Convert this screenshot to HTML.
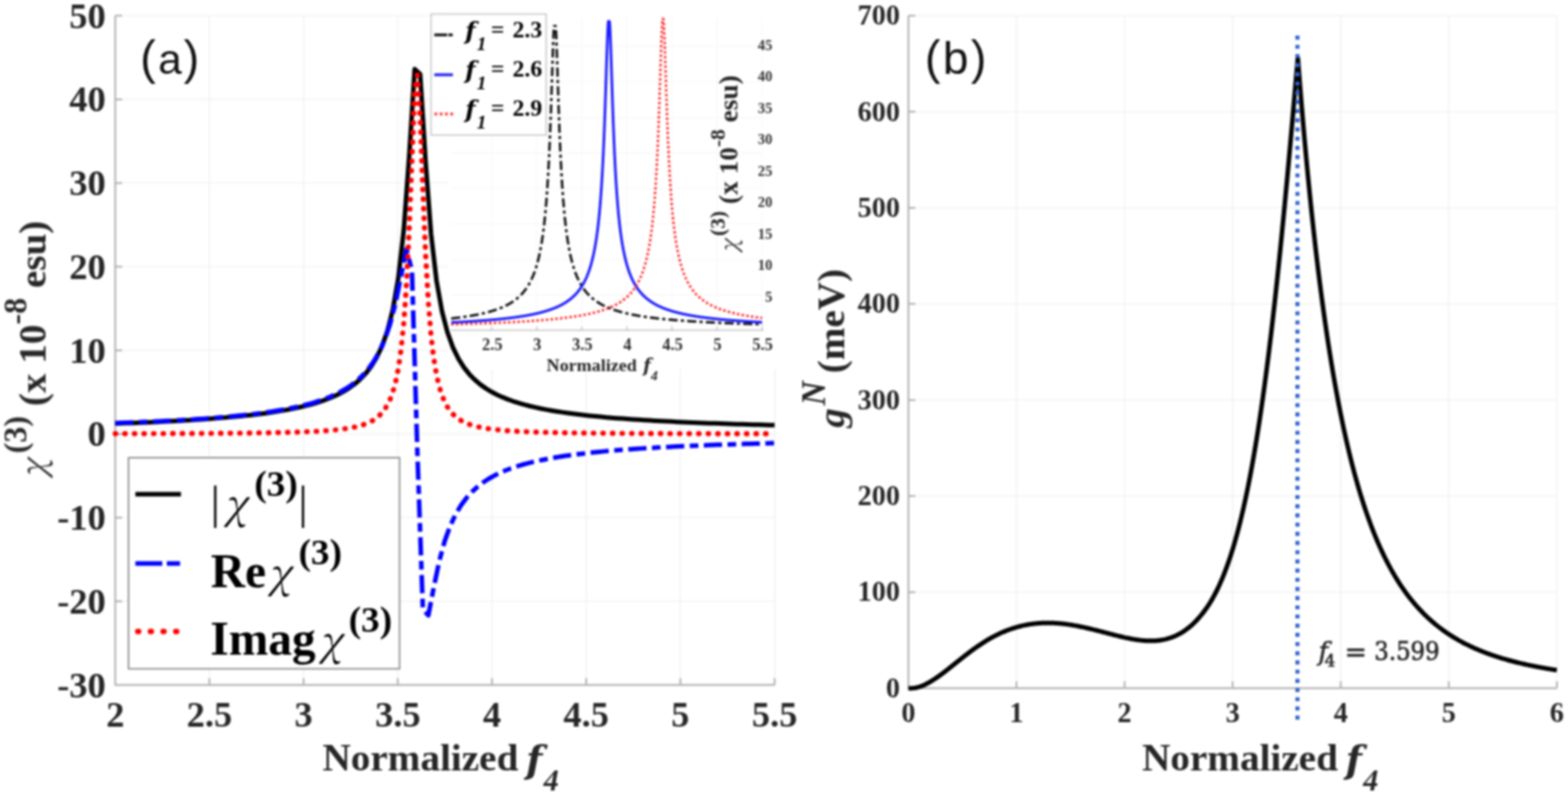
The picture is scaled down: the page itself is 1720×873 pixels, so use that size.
<!DOCTYPE html>
<html lang="en">
<head>
<meta charset="utf-8">
<title>Figure: third-order susceptibility and normalized gain</title>
<style>
html,body{margin:0;padding:0;background:#fff;}
body{width:1720px;height:873px;overflow:hidden;}
svg{display:block;}
text{font-family:"Liberation Serif","DejaVu Serif",serif;font-weight:bold;fill:#262626;}
.tk{font-size:40px;}
.btk{font-size:31px;}
.lab{font-size:43px;}
.bi{font-style:italic;font-weight:bold;}
.fi{font-family:"DejaVu Serif","Liberation Serif",serif;font-style:italic;font-weight:bold;}
.chi{font-family:"Noto Serif CJK SC","Liberation Serif",serif;font-weight:400;font-style:italic;}
.sup{font-size:35px;}
.pl{font-family:"Liberation Sans","DejaVu Sans",sans-serif;font-weight:normal;font-size:51.3px;fill:#111;}
.leg{font-size:52px;fill:#000;}
.bar{font-weight:normal;font-size:51px;}
.lsup{font-size:41px;}
.itk{font-size:18px;fill:#2c2c2c;}
.iytk{font-size:16px;fill:#333;}
.ilab{font-size:19.8px;}
.iylab{font-size:30px;}
.isup{font-size:23.5px;}
.ileg{font-size:26px;fill:#000;}
.ann{font-family:"DejaVu Serif","Liberation Serif",serif;font-weight:normal;font-size:25px;fill:#2a2a2a;stroke:#2a2a2a;stroke-width:0.7px;}
.annd{font-family:"DejaVu Serif Condensed","DejaVu Serif","Liberation Serif",serif;font-stretch:condensed;font-size:27.8px;}
</style>
</head>
<body>
<svg width="1720" height="873" viewBox="0 0 1720 873">
<defs><filter id="soft" x="0" y="0" width="1720" height="873" filterUnits="userSpaceOnUse" color-interpolation-filters="sRGB"><feGaussianBlur stdDeviation="0.85"/></filter></defs>
<rect x="0" y="0" width="1720" height="873" fill="#ffffff"/>
<g filter="url(#soft)">
<g id="plot-a">
<path d="M126.40,17.20 V751.20 M229.73,17.20 V751.20 M333.06,17.20 V751.20 M436.39,17.20 V751.20 M539.71,17.20 V751.20 M643.04,17.20 V751.20 M746.37,17.20 V751.20 M849.70,17.20 V751.20 M126.40,751.20 H849.70 M126.40,659.45 H849.70 M126.40,567.70 H849.70 M126.40,475.95 H849.70 M126.40,384.20 H849.70 M126.40,292.45 H849.70 M126.40,200.70 H849.70 M126.40,108.95 H849.70 M126.40,17.20 H849.70" fill="none" stroke="#f1f1f1" stroke-width="1.3"/>
<rect x="492" y="13" width="359" height="392" fill="#fff"/>
<path d="M126.40,17.20 V751.20 H849.70 M126.40,751.20 v-7.5 M229.73,751.20 v-7.5 M333.06,751.20 v-7.5 M436.39,751.20 v-7.5 M539.71,751.20 v-7.5 M643.04,751.20 v-7.5 M746.37,751.20 v-7.5 M849.70,751.20 v-7.5 M126.40,751.20 h7.5 M126.40,659.45 h7.5 M126.40,567.70 h7.5 M126.40,475.95 h7.5 M126.40,384.20 h7.5 M126.40,292.45 h7.5 M126.40,200.70 h7.5 M126.40,108.95 h7.5 M126.40,17.20 h7.5" fill="none" stroke="#b2b2b2" stroke-width="2"/>
<path d="M126.40,464.51 L131.28,464.34 L137.27,464.12 L143.26,463.89 L149.26,463.66 L155.25,463.42 L161.24,463.16 L167.24,462.90 L173.23,462.63 L179.22,462.34 L185.21,462.04 L191.21,461.73 L197.20,461.40 L203.19,461.06 L209.19,460.70 L215.18,460.32 L221.17,459.93 L227.17,459.51 L233.16,459.07 L239.15,458.61 L245.15,458.12 L251.14,457.61 L257.13,457.06 L263.12,456.48 L269.12,455.86 L275.11,455.21 L281.10,454.50 L287.10,453.75 L293.09,452.95 L299.08,452.08 L305.08,451.15 L311.07,450.14 L317.06,449.04 L323.05,447.85 L329.05,446.55 L335.04,445.12 L341.03,443.55 L347.03,441.80 L353.02,439.86 L359.01,437.69 L365.01,435.24 L371.00,432.46 L376.99,429.27 L382.99,425.57 L388.98,421.25 L394.97,416.11 L400.96,409.89 L406.96,402.23 L412.95,392.54 L418.94,379.96 L424.94,363.06 L430.93,339.48 L436.92,305.01 L442.92,252.15 L448.91,170.45 L454.90,75.86 L460.90,81.35 L466.89,177.75 L472.88,257.05 L478.87,308.15 L484.87,341.58 L490.86,364.54 L496.85,381.04 L502.85,393.36 L508.84,402.87 L514.83,410.41 L520.83,416.53 L526.82,421.60 L532.81,425.88 L538.80,429.53 L544.80,432.68 L550.79,435.44 L556.78,437.86 L562.78,440.02 L568.77,441.94 L574.76,443.67 L580.76,445.23 L586.75,446.65 L592.74,447.94 L598.74,449.13 L604.73,450.22 L610.72,451.22 L616.71,452.15 L622.71,453.01 L628.70,453.81 L634.69,454.56 L640.69,455.26 L646.68,455.91 L652.67,456.53 L658.67,457.10 L664.66,457.65 L670.65,458.16 L676.65,458.65 L682.64,459.11 L688.63,459.54 L694.62,459.96 L700.62,460.35 L706.61,460.73 L712.60,461.09 L718.60,461.43 L724.59,461.75 L730.58,462.06 L736.58,462.36 L742.57,462.65 L748.56,462.92 L754.56,463.18 L760.55,463.44 L766.54,463.68 L772.53,463.91 L778.53,464.14 L784.52,464.35 L790.51,464.56 L796.51,464.76 L802.50,464.96 L808.49,465.14 L814.49,465.33 L820.48,465.50 L826.47,465.67 L832.46,465.84 L838.46,465.99 L844.45,466.15 L849.70,466.28" fill="none" stroke="#000" stroke-width="5" stroke-linejoin="round"/>
<path d="M126.40,464.10 L128.26,464.03 L134.25,463.81 L140.25,463.59 L146.24,463.35 L152.23,463.10 L158.23,462.84 L164.22,462.58 L170.21,462.30 L176.20,462.01 L182.20,461.70 L188.19,461.39 L194.18,461.06 L200.18,460.71 L206.17,460.35 L212.16,459.97 L218.16,459.57 L224.15,459.15 L230.14,458.71 L236.13,458.24 L242.13,457.75 L248.12,457.23 L254.11,456.68 L260.11,456.10 L266.10,455.48 L272.09,454.82 L278.09,454.12 L284.08,453.37 L290.07,452.57 L296.07,451.70 L302.06,450.78 L308.05,449.77 L314.04,448.69 L320.04,447.51 L326.03,446.22 L332.02,444.82 L338.02,443.28 L344.01,441.57 L350.00,439.68 L356.00,437.58 L361.99,435.21 L367.98,432.54 L373.98,429.50 L379.97,426.00 L385.96,421.95 L391.95,417.20 L397.95,411.56 L403.94,404.76 L409.93,396.42 L415.93,386.00 L421.92,372.69 L427.91,355.32 L433.91,332.32 L439.90,302.68 L445.89,273.17 L451.89,297.03 L457.88,497.43 L463.87,668.20 L469.86,674.96 L475.86,643.92 L481.85,615.32 L487.84,593.36 L493.84,576.76 L499.83,564.00 L505.82,553.97 L511.82,545.92 L517.81,539.33 L523.80,533.86 L529.79,529.23 L535.79,525.28 L541.78,521.87 L547.77,518.90 L553.77,516.28 L559.76,513.96 L565.75,511.89 L571.75,510.03 L577.74,508.36 L583.73,506.84 L589.73,505.45 L595.72,504.19 L601.71,503.03 L607.70,501.96 L613.70,500.97 L619.69,500.05 L625.68,499.20 L631.68,498.40 L637.67,497.66 L643.66,496.96 L649.66,496.31 L655.65,495.70 L661.64,495.12 L667.64,494.58 L673.63,494.07 L679.62,493.58 L685.61,493.12 L691.61,492.68 L697.60,492.26 L703.59,491.87 L709.59,491.49 L715.58,491.13 L721.57,490.79 L727.57,490.46 L733.56,490.14 L739.55,489.84 L745.54,489.56 L751.54,489.28 L757.53,489.01 L763.52,488.76 L769.52,488.51 L775.51,488.28 L781.50,488.05 L787.50,487.83 L793.49,487.62 L799.48,487.41 L805.48,487.22 L811.47,487.03 L817.46,486.84 L823.45,486.66 L829.45,486.49 L835.44,486.33 L841.43,486.16 L847.43,486.01 L849.70,485.95" fill="none" stroke="#0000ff" stroke-width="5" stroke-dasharray="20 6 9.5 6" stroke-linejoin="round"/>
<path d="M126.40,475.62 L128.28,475.62 L131.28,475.61 L134.27,475.60 L137.27,475.60 L140.27,475.59 L143.26,475.58 L146.26,475.58 L149.26,475.57 L152.25,475.56 L155.25,475.56 L158.25,475.55 L161.24,475.54 L164.24,475.53 L167.24,475.52 L170.23,475.51 L173.23,475.50 L176.23,475.49 L179.22,475.48 L182.22,475.47 L185.21,475.46 L188.21,475.45 L191.21,475.44 L194.20,475.43 L197.20,475.42 L200.20,475.41 L203.19,475.39 L206.19,475.38 L209.19,475.37 L212.18,475.35 L215.18,475.34 L218.18,475.32 L221.17,475.30 L224.17,475.29 L227.17,475.27 L230.16,475.25 L233.16,475.23 L236.16,475.21 L239.15,475.19 L242.15,475.17 L245.15,475.15 L248.14,475.13 L251.14,475.10 L254.13,475.08 L257.13,475.05 L260.13,475.02 L263.12,475.00 L266.12,474.97 L269.12,474.93 L272.11,474.90 L275.11,474.87 L278.11,474.83 L281.10,474.79 L284.10,474.75 L287.10,474.71 L290.09,474.66 L293.09,474.62 L296.09,474.57 L299.08,474.51 L302.08,474.46 L305.08,474.40 L308.07,474.34 L311.07,474.27 L314.07,474.20 L317.06,474.12 L320.06,474.04 L323.05,473.96 L326.05,473.87 L329.05,473.77 L332.04,473.66 L335.04,473.55 L338.04,473.43 L341.03,473.30 L344.03,473.16 L347.03,473.01 L350.02,472.84 L353.02,472.66 L356.02,472.46 L359.01,472.25 L362.01,472.02 L365.01,471.76 L368.00,471.48 L371.00,471.16 L374.00,470.82 L376.99,470.43 L379.99,470.00 L382.99,469.52 L385.98,468.98 L388.98,468.36 L391.98,467.67 L394.97,466.87 L397.97,465.95 L400.96,464.89 L403.96,463.65 L406.96,462.19 L409.95,460.47 L412.95,458.40 L415.95,455.89 L418.94,452.82 L421.94,449.00 L424.94,444.19 L427.93,438.02 L430.93,429.94 L433.93,419.16 L436.92,404.41 L439.92,383.75 L442.92,354.19 L445.91,311.41 L448.91,250.75 L451.91,173.06 L454.90,100.12 L457.90,82.34 L460.90,127.98 L463.89,207.68 L466.89,279.08 L469.88,331.64 L472.88,368.17 L475.88,393.47 L478.87,411.30 L481.87,424.17 L484.87,433.67 L487.86,440.85 L490.86,446.39 L493.86,450.74 L496.85,454.21 L499.85,457.02 L502.85,459.33 L505.84,461.24 L508.84,462.85 L511.84,464.20 L514.83,465.36 L517.83,466.36 L520.83,467.22 L523.82,467.98 L526.82,468.64 L529.82,469.22 L532.81,469.73 L535.81,470.19 L538.80,470.60 L541.80,470.97 L544.80,471.30 L547.79,471.60 L550.79,471.87 L553.79,472.12 L556.78,472.34 L559.78,472.55 L562.78,472.74 L565.77,472.91 L568.77,473.07 L571.77,473.22 L574.76,473.36 L577.76,473.48 L580.76,473.60 L583.75,473.71 L586.75,473.81 L589.75,473.91 L592.74,474.00 L595.74,474.08 L598.74,474.16 L601.73,474.23 L604.73,474.30 L607.73,474.36 L610.72,474.43 L613.72,474.48 L616.71,474.54 L619.71,474.59 L622.71,474.64 L625.70,474.68 L628.70,474.73 L631.70,474.77 L634.69,474.81 L637.69,474.85 L640.69,474.88 L643.68,474.92 L646.68,474.95 L649.68,474.98 L652.67,475.01 L655.67,475.04 L658.67,475.06 L661.66,475.09 L664.66,475.11 L667.66,475.14 L670.65,475.16 L673.65,475.18 L676.65,475.20 L679.64,475.22 L682.64,475.24 L685.63,475.26 L688.63,475.28 L691.63,475.29 L694.62,475.31 L697.62,475.33 L700.62,475.34 L703.61,475.36 L706.61,475.37 L709.61,475.38 L712.60,475.40 L715.60,475.41 L718.60,475.42 L721.59,475.43 L724.59,475.45 L727.59,475.46 L730.58,475.47 L733.58,475.48 L736.58,475.49 L739.57,475.50 L742.57,475.51 L745.57,475.52 L748.56,475.53 L751.56,475.53 L754.56,475.54 L757.55,475.55 L760.55,475.56 L763.54,475.57 L766.54,475.57 L769.54,475.58 L772.53,475.59 L775.53,475.59 L778.53,475.60 L781.52,475.61 L784.52,475.61 L787.52,475.62 L790.51,475.63 L793.51,475.63 L796.51,475.64 L799.50,475.64 L802.50,475.65 L805.50,475.65 L808.49,475.66 L811.49,475.66 L814.49,475.67 L817.48,475.67 L820.48,475.68 L823.48,475.68 L826.47,475.69 L829.47,475.69 L832.46,475.69 L835.46,475.70 L838.46,475.70 L841.45,475.71 L844.45,475.71 L847.45,475.71 L849.70,475.72" fill="none" stroke="#ff0000" stroke-width="5.7" stroke-dasharray="0.5 10" stroke-linecap="round" stroke-linejoin="round"/>
<text x="116" y="764.70" text-anchor="end" class="tk">-30</text>
<text x="116" y="672.95" text-anchor="end" class="tk">-20</text>
<text x="116" y="581.20" text-anchor="end" class="tk">-10</text>
<text x="116" y="489.45" text-anchor="end" class="tk">0</text>
<text x="116" y="397.70" text-anchor="end" class="tk">10</text>
<text x="116" y="305.95" text-anchor="end" class="tk">20</text>
<text x="116" y="214.20" text-anchor="end" class="tk">30</text>
<text x="116" y="122.45" text-anchor="end" class="tk">40</text>
<text x="116" y="30.70" text-anchor="end" class="tk">50</text>
<text x="126.40" y="797.4" text-anchor="middle" class="tk">2</text>
<text x="229.73" y="797.4" text-anchor="middle" class="tk">2.5</text>
<text x="333.06" y="797.4" text-anchor="middle" class="tk">3</text>
<text x="436.39" y="797.4" text-anchor="middle" class="tk">3.5</text>
<text x="539.71" y="797.4" text-anchor="middle" class="tk">4</text>
<text x="643.04" y="797.4" text-anchor="middle" class="tk">4.5</text>
<text x="746.37" y="797.4" text-anchor="middle" class="tk">5</text>
<text x="849.70" y="797.4" text-anchor="middle" class="tk">5.5</text>
<text x="353.7" y="845.3" class="lab">Normalized <tspan class="fi" font-size="41.5" x="577.0" y="847.4">f</tspan><tspan class="bi" font-size="33.5" x="596.2" y="867">4</tspan></text>
<text transform="translate(50,524.2) rotate(-90)" class="lab"><tspan class="chi" font-size="37.5" x="0" y="0">χ</tspan><tspan class="sup" x="27.1" y="-20.6">(3)</tspan><tspan y="0"> (x 10</tspan><tspan class="sup" y="-20.6">-8</tspan><tspan y="0"> esu)</tspan></text>
<text y="80.9" class="pl"><tspan x="153.8">(</tspan><tspan x="173.4" font-size="46.5">a</tspan><tspan x="201.6">)</tspan></text>
<rect x="141" y="502" width="297.3" height="231.5" fill="#fff" stroke="#8e8e8e" stroke-width="1.7"/>
<path d="M148.5,542 H198.5" stroke="#000" stroke-width="5" fill="none"/>
<path d="M148.5,618 H178 M183,618 H197.5" stroke="#0000ff" stroke-width="5" fill="none"/>
<path d="M151.2,692.5 H198" stroke="#ff0000" stroke-width="6.2" stroke-dasharray="0.8 13.1" stroke-linecap="round" fill="none"/>
<text class="leg"><tspan class="bar" x="230.9" y="568">|</tspan><tspan class="chi" font-size="45" x="245.7" y="568.8">χ</tspan><tspan class="lsup" x="278.9" y="543.6">(3)</tspan><tspan class="bar" x="327.2" y="568">|</tspan></text>
<text class="leg"><tspan x="231.3" y="644">Re</tspan><tspan class="chi" font-size="45" x="294" y="644.8">χ</tspan><tspan class="lsup" x="327.4" y="619.4">(3)</tspan></text>
<text class="leg"><tspan x="230.8" y="717.5">Imag</tspan><tspan class="chi" font-size="45" x="350" y="718.5">χ</tspan><tspan class="lsup" x="382.4" y="692.8">(3)</tspan></text>
</g>
<g id="inset">
<path d="M539.43,20.00 V362.30 M588.86,20.00 V362.30 M638.29,20.00 V362.30 M687.71,20.00 V362.30 M737.14,20.00 V362.30 M786.57,20.00 V362.30 M836.00,20.00 V362.30 M495.00,323.40 H836.00 M495.00,284.50 H836.00 M495.00,245.60 H836.00 M495.00,206.70 H836.00 M495.00,167.80 H836.00 M495.00,128.90 H836.00 M495.00,90.00 H836.00 M495.00,51.10 H836.00" fill="none" stroke="#f8f8f8" stroke-width="1.2"/>
<path d="M495,362.30 H837.50 M539.43,362.30 v-4 M588.86,362.30 v-4 M638.29,362.30 v-4 M687.71,362.30 v-4 M737.14,362.30 v-4 M786.57,362.30 v-4 M836.00,362.30 v-4" fill="none" stroke="#c8c8c8" stroke-width="1.6"/>
<path d="M494.94,349.31 L495.19,349.28 L495.43,349.26 L495.67,349.23 L495.92,349.20 L496.16,349.17 L496.41,349.15 L496.65,349.12 L496.89,349.09 L497.14,349.06 L497.38,349.03 L497.62,349.01 L497.87,348.98 L498.11,348.95 L498.36,348.92 L498.60,348.89 L498.84,348.86 L499.09,348.83 L499.33,348.80 L499.57,348.77 L499.82,348.74 L500.06,348.71 L500.31,348.68 L500.55,348.65 L500.79,348.62 L501.04,348.59 L501.28,348.56 L501.53,348.53 L501.77,348.50 L502.01,348.47 L502.26,348.44 L502.50,348.41 L502.74,348.38 L502.99,348.35 L503.23,348.32 L503.48,348.28 L503.72,348.25 L503.96,348.22 L504.21,348.19 L504.45,348.16 L504.69,348.12 L504.94,348.09 L505.18,348.06 L505.43,348.02 L505.67,347.99 L505.91,347.96 L506.16,347.93 L506.40,347.89 L506.64,347.86 L506.89,347.82 L507.13,347.79 L507.38,347.76 L507.62,347.72 L507.86,347.69 L508.11,347.65 L508.35,347.62 L508.59,347.58 L508.84,347.55 L509.08,347.51 L509.33,347.48 L509.57,347.44 L509.81,347.41 L510.06,347.37 L510.30,347.33 L510.55,347.30 L510.79,347.26 L511.03,347.22 L511.28,347.19 L511.52,347.15 L511.76,347.11 L512.01,347.07 L512.25,347.04 L512.50,347.00 L512.74,346.96 L512.98,346.92 L513.23,346.88 L513.47,346.85 L513.71,346.81 L513.96,346.77 L514.20,346.73 L514.45,346.69 L514.69,346.65 L514.93,346.61 L515.18,346.57 L515.42,346.53 L515.66,346.49 L515.91,346.45 L516.15,346.41 L516.40,346.37 L516.64,346.32 L516.88,346.28 L517.13,346.24 L517.37,346.20 L517.61,346.16 L517.86,346.11 L518.10,346.07 L518.35,346.03 L518.59,345.99 L518.83,345.94 L519.08,345.90 L519.32,345.85 L519.57,345.81 L519.81,345.77 L520.05,345.72 L520.30,345.68 L520.54,345.63 L520.78,345.59 L521.03,345.54 L521.27,345.50 L521.52,345.45 L521.76,345.40 L522.00,345.36 L522.25,345.31 L522.49,345.26 L522.73,345.21 L522.98,345.17 L523.22,345.12 L523.47,345.07 L523.71,345.02 L523.95,344.97 L524.20,344.92 L524.44,344.88 L524.68,344.83 L524.93,344.78 L525.17,344.73 L525.42,344.68 L525.66,344.62 L525.90,344.57 L526.15,344.52 L526.39,344.47 L526.64,344.42 L526.88,344.37 L527.12,344.31 L527.37,344.26 L527.61,344.21 L527.85,344.15 L528.10,344.10 L528.34,344.05 L528.59,343.99 L528.83,343.94 L529.07,343.88 L529.32,343.83 L529.56,343.77 L529.80,343.71 L530.05,343.66 L530.29,343.60 L530.54,343.54 L530.78,343.49 L531.02,343.43 L531.27,343.37 L531.51,343.31 L531.75,343.25 L532.00,343.19 L532.24,343.13 L532.49,343.07 L532.73,343.01 L532.97,342.95 L533.22,342.89 L533.46,342.83 L533.70,342.76 L533.95,342.70 L534.19,342.64 L534.44,342.58 L534.68,342.51 L534.92,342.45 L535.17,342.38 L535.41,342.32 L535.66,342.25 L535.90,342.19 L536.14,342.12 L536.39,342.05 L536.63,341.99 L536.87,341.92 L537.12,341.85 L537.36,341.78 L537.61,341.71 L537.85,341.64 L538.09,341.57 L538.34,341.50 L538.58,341.43 L538.82,341.36 L539.07,341.29 L539.31,341.21 L539.56,341.14 L539.80,341.07 L540.04,340.99 L540.29,340.92 L540.53,340.84 L540.77,340.77 L541.02,340.69 L541.26,340.61 L541.51,340.54 L541.75,340.46 L541.99,340.38 L542.24,340.30 L542.48,340.22 L542.72,340.14 L542.97,340.06 L543.21,339.98 L543.46,339.90 L543.70,339.81 L543.94,339.73 L544.19,339.65 L544.43,339.56 L544.68,339.48 L544.92,339.39 L545.16,339.31 L545.41,339.22 L545.65,339.13 L545.89,339.04 L546.14,338.95 L546.38,338.86 L546.63,338.77 L546.87,338.68 L547.11,338.59 L547.36,338.50 L547.60,338.40 L547.84,338.31 L548.09,338.21 L548.33,338.12 L548.58,338.02 L548.82,337.92 L549.06,337.83 L549.31,337.73 L549.55,337.63 L549.79,337.53 L550.04,337.43 L550.28,337.32 L550.53,337.22 L550.77,337.12 L551.01,337.01 L551.26,336.91 L551.50,336.80 L551.75,336.69 L551.99,336.58 L552.23,336.48 L552.48,336.37 L552.72,336.25 L552.96,336.14 L553.21,336.03 L553.45,335.91 L553.70,335.80 L553.94,335.68 L554.18,335.57 L554.43,335.45 L554.67,335.33 L554.91,335.21 L555.16,335.09 L555.40,334.96 L555.65,334.84 L555.89,334.72 L556.13,334.59 L556.38,334.46 L556.62,334.34 L556.86,334.21 L557.11,334.08 L557.35,333.94 L557.60,333.81 L557.84,333.68 L558.08,333.54 L558.33,333.40 L558.57,333.26 L558.81,333.13 L559.06,332.98 L559.30,332.84 L559.55,332.70 L559.79,332.55 L560.03,332.41 L560.28,332.26 L560.52,332.11 L560.77,331.96 L561.01,331.80 L561.25,331.65 L561.50,331.49 L561.74,331.34 L561.98,331.18 L562.23,331.02 L562.47,330.86 L562.72,330.69 L562.96,330.53 L563.20,330.36 L563.45,330.19 L563.69,330.02 L563.93,329.85 L564.18,329.67 L564.42,329.49 L564.67,329.31 L564.91,329.13 L565.15,328.95 L565.40,328.77 L565.64,328.58 L565.88,328.39 L566.13,328.20 L566.37,328.01 L566.62,327.81 L566.86,327.61 L567.10,327.42 L567.35,327.21 L567.59,327.01 L567.83,326.80 L568.08,326.59 L568.32,326.38 L568.57,326.17 L568.81,325.95 L569.05,325.73 L569.30,325.51 L569.54,325.28 L569.79,325.05 L570.03,324.82 L570.27,324.59 L570.52,324.35 L570.76,324.11 L571.00,323.87 L571.25,323.63 L571.49,323.38 L571.74,323.13 L571.98,322.87 L572.22,322.61 L572.47,322.35 L572.71,322.08 L572.95,321.81 L573.20,321.54 L573.44,321.27 L573.69,320.99 L573.93,320.70 L574.17,320.41 L574.42,320.12 L574.66,319.83 L574.90,319.53 L575.15,319.22 L575.39,318.91 L575.64,318.60 L575.88,318.28 L576.12,317.96 L576.37,317.63 L576.61,317.30 L576.86,316.96 L577.10,316.62 L577.34,316.27 L577.59,315.92 L577.83,315.56 L578.07,315.20 L578.32,314.83 L578.56,314.45 L578.81,314.07 L579.05,313.69 L579.29,313.29 L579.54,312.89 L579.78,312.49 L580.02,312.07 L580.27,311.65 L580.51,311.23 L580.76,310.79 L581.00,310.35 L581.24,309.90 L581.49,309.44 L581.73,308.98 L581.97,308.50 L582.22,308.02 L582.46,307.53 L582.71,307.03 L582.95,306.53 L583.19,306.01 L583.44,305.48 L583.68,304.94 L583.92,304.40 L584.17,303.84 L584.41,303.27 L584.66,302.69 L584.90,302.10 L585.14,301.50 L585.39,300.88 L585.63,300.25 L585.88,299.61 L586.12,298.96 L586.36,298.30 L586.61,297.61 L586.85,296.92 L587.09,296.21 L587.34,295.48 L587.58,294.74 L587.83,293.99 L588.07,293.21 L588.31,292.42 L588.56,291.61 L588.80,290.78 L589.04,289.93 L589.29,289.07 L589.53,288.18 L589.78,287.27 L590.02,286.34 L590.26,285.38 L590.51,284.40 L590.75,283.40 L590.99,282.37 L591.24,281.32 L591.48,280.23 L591.73,279.12 L591.97,277.98 L592.21,276.81 L592.46,275.61 L592.70,274.37 L592.94,273.10 L593.19,271.79 L593.43,270.44 L593.68,269.06 L593.92,267.64 L594.16,266.17 L594.41,264.66 L594.65,263.10 L594.90,261.49 L595.14,259.83 L595.38,258.12 L595.63,256.36 L595.87,254.54 L596.11,252.65 L596.36,250.71 L596.60,248.69 L596.85,246.61 L597.09,244.46 L597.33,242.22 L597.58,239.91 L597.82,237.52 L598.06,235.03 L598.31,232.46 L598.55,229.78 L598.80,227.00 L599.04,224.12 L599.28,221.12 L599.53,218.00 L599.77,214.76 L600.01,211.38 L600.26,207.87 L600.50,204.21 L600.75,200.40 L600.99,196.42 L601.23,192.28 L601.48,187.96 L601.72,183.46 L601.97,178.76 L602.21,173.86 L602.45,168.75 L602.70,163.43 L602.94,157.88 L603.18,152.11 L603.43,146.10 L603.67,139.86 L603.92,133.38 L604.16,126.68 L604.40,119.76 L604.65,112.63 L604.89,105.32 L605.13,97.85 L605.38,90.26 L605.62,82.61 L605.87,74.94 L606.11,67.34 L606.35,59.89 L606.60,52.69 L606.84,45.86 L607.08,39.52 L607.33,33.79 L607.57,28.80 L607.82,28.50 L608.06,28.50 L608.30,28.50 L608.55,28.50 L608.79,28.50 L609.03,28.50 L609.28,28.50 L609.52,28.50 L609.77,30.38 L610.01,35.62 L610.25,41.57 L610.50,48.09 L610.74,55.06 L610.99,62.35 L611.23,69.86 L611.47,77.49 L611.72,85.16 L611.96,92.80 L612.20,100.36 L612.45,107.78 L612.69,115.03 L612.94,122.09 L613.18,128.94 L613.42,135.57 L613.67,141.96 L613.91,148.13 L614.15,154.06 L614.40,159.76 L614.64,165.23 L614.89,170.48 L615.13,175.52 L615.37,180.35 L615.62,184.98 L615.86,189.42 L616.10,193.68 L616.35,197.77 L616.59,201.69 L616.84,205.45 L617.08,209.06 L617.32,212.52 L617.57,215.85 L617.81,219.06 L618.05,222.13 L618.30,225.09 L618.54,227.94 L618.79,230.68 L619.03,233.33 L619.27,235.87 L619.52,238.33 L619.76,240.69 L620.01,242.98 L620.25,245.18 L620.49,247.31 L620.74,249.37 L620.98,251.36 L621.22,253.29 L621.47,255.15 L621.71,256.95 L621.96,258.70 L622.20,260.39 L622.44,262.03 L622.69,263.62 L622.93,265.16 L623.17,266.66 L623.42,268.11 L623.66,269.53 L623.91,270.90 L624.15,272.23 L624.39,273.53 L624.64,274.79 L624.88,276.01 L625.12,277.20 L625.37,278.36 L625.61,279.50 L625.86,280.60 L626.10,281.67 L626.34,282.72 L626.59,283.74 L626.83,284.73 L627.08,285.70 L627.32,286.65 L627.56,287.57 L627.81,288.48 L628.05,289.36 L628.29,290.22 L628.54,291.06 L628.78,291.88 L629.03,292.69 L629.27,293.47 L629.51,294.24 L629.76,294.99 L630.00,295.73 L630.24,296.45 L630.49,297.15 L630.73,297.84 L630.98,298.52 L631.22,299.18 L631.46,299.83 L631.71,300.47 L631.95,301.09 L632.19,301.70 L632.44,302.30 L632.68,302.88 L632.93,303.46 L633.17,304.03 L633.41,304.58 L633.66,305.12 L633.90,305.66 L634.14,306.18 L634.39,306.70 L634.63,307.20 L634.88,307.70 L635.12,308.18 L635.36,308.66 L635.61,309.13 L635.85,309.60 L636.10,310.05 L636.34,310.50 L636.58,310.94 L636.83,311.37 L637.07,311.79 L637.31,312.21 L637.56,312.62 L637.80,313.03 L638.05,313.42 L638.29,313.81 L638.53,314.20 L638.78,314.58 L639.02,314.95 L639.26,315.32 L639.51,315.68 L639.75,316.04 L640.00,316.39 L640.24,316.73 L640.48,317.07 L640.73,317.41 L640.97,317.74 L641.21,318.07 L641.46,318.39 L641.70,318.70 L641.95,319.02 L642.19,319.32 L642.43,319.63 L642.68,319.92 L642.92,320.22 L643.16,320.51 L643.41,320.80 L643.65,321.08 L643.90,321.36 L644.14,321.63 L644.38,321.91 L644.63,322.17 L644.87,322.44 L645.12,322.70 L645.36,322.96 L645.60,323.21 L645.85,323.46 L646.09,323.71 L646.33,323.95 L646.58,324.19 L646.82,324.43 L647.07,324.67 L647.31,324.90 L647.55,325.13 L647.80,325.36 L648.04,325.58 L648.28,325.80 L648.53,326.02 L648.77,326.24 L649.02,326.45 L649.26,326.66 L649.50,326.87 L649.75,327.08 L649.99,327.28 L650.23,327.48 L650.48,327.68 L650.72,327.88 L650.97,328.07 L651.21,328.26 L651.45,328.45 L651.70,328.64 L651.94,328.83 L652.19,329.01 L652.43,329.19 L652.67,329.37 L652.92,329.55 L653.16,329.73 L653.40,329.90 L653.65,330.08 L653.89,330.25 L654.14,330.41 L654.38,330.58 L654.62,330.75 L654.87,330.91 L655.11,331.07 L655.35,331.23 L655.60,331.39 L655.84,331.55 L656.09,331.70 L656.33,331.86 L656.57,332.01 L656.82,332.16 L657.06,332.31 L657.30,332.46 L657.55,332.60 L657.79,332.75 L658.04,332.89 L658.28,333.03 L658.52,333.17 L658.77,333.31 L659.01,333.45 L659.25,333.59 L659.50,333.72 L659.74,333.85 L659.99,333.99 L660.23,334.12 L660.47,334.25 L660.72,334.38 L660.96,334.51 L661.21,334.63 L661.45,334.76 L661.69,334.88 L661.94,335.01 L662.18,335.13 L662.42,335.25 L662.67,335.37 L662.91,335.49 L663.16,335.61 L663.40,335.72 L663.64,335.84 L663.89,335.95 L664.13,336.07 L664.37,336.18 L664.62,336.29 L664.86,336.40 L665.11,336.51 L665.35,336.62 L665.59,336.73 L665.84,336.84 L666.08,336.94 L666.32,337.05 L666.57,337.15 L666.81,337.26 L667.06,337.36 L667.30,337.46 L667.54,337.56 L667.79,337.66 L668.03,337.76 L668.27,337.86 L668.52,337.96 L668.76,338.05 L669.01,338.15 L669.25,338.25 L669.49,338.34 L669.74,338.43 L669.98,338.53 L670.23,338.62 L670.47,338.71 L670.71,338.80 L670.96,338.89 L671.20,338.98 L671.44,339.07 L671.69,339.16 L671.93,339.25 L672.18,339.33 L672.42,339.42 L672.66,339.51 L672.91,339.59 L673.15,339.68 L673.39,339.76 L673.64,339.84 L673.88,339.92 L674.13,340.01 L674.37,340.09 L674.61,340.17 L674.86,340.25 L675.10,340.33 L675.34,340.41 L675.59,340.49 L675.83,340.56 L676.08,340.64 L676.32,340.72 L676.56,340.79 L676.81,340.87 L677.05,340.94 L677.30,341.02 L677.54,341.09 L677.78,341.17 L678.03,341.24 L678.27,341.31 L678.51,341.38 L678.76,341.45 L679.00,341.52 L679.25,341.60 L679.49,341.67 L679.73,341.73 L679.98,341.80 L680.22,341.87 L680.46,341.94 L680.71,342.01 L680.95,342.07 L681.20,342.14 L681.44,342.21 L681.68,342.27 L681.93,342.34 L682.17,342.40 L682.41,342.47 L682.66,342.53 L682.90,342.60 L683.15,342.66 L683.39,342.72 L683.63,342.79 L683.88,342.85 L684.12,342.91 L684.36,342.97 L684.61,343.03 L684.85,343.09 L685.10,343.15 L685.34,343.21 L685.58,343.27 L685.83,343.33 L686.07,343.39 L686.32,343.45 L686.56,343.50 L686.80,343.56 L687.05,343.62 L687.29,343.68 L687.53,343.73 L687.78,343.79 L688.02,343.84 L688.27,343.90 L688.51,343.95 L688.75,344.01 L689.00,344.06 L689.24,344.12 L689.48,344.17 L689.73,344.23 L689.97,344.28 L690.22,344.33 L690.46,344.38 L690.70,344.44 L690.95,344.49 L691.19,344.54 L691.43,344.59 L691.68,344.64 L691.92,344.69 L692.17,344.74 L692.41,344.79 L692.65,344.84 L692.90,344.89 L693.14,344.94 L693.38,344.99 L693.63,345.04 L693.87,345.09 L694.12,345.14 L694.36,345.18 L694.60,345.23 L694.85,345.28 L695.09,345.32 L695.34,345.37 L695.58,345.42 L695.82,345.46 L696.07,345.51 L696.31,345.56 L696.55,345.60 L696.80,345.65 L697.04,345.69 L697.29,345.74 L697.53,345.78 L697.77,345.83 L698.02,345.87 L698.26,345.91 L698.50,345.96 L698.75,346.00 L698.99,346.04 L699.24,346.09 L699.48,346.13 L699.72,346.17 L699.97,346.21 L700.21,346.26 L700.45,346.30 L700.70,346.34 L700.94,346.38 L701.19,346.42 L701.43,346.46 L701.67,346.50 L701.92,346.54 L702.16,346.58 L702.41,346.62 L702.65,346.66 L702.89,346.70 L703.14,346.74 L703.38,346.78 L703.62,346.82 L703.87,346.86 L704.11,346.90 L704.36,346.94 L704.60,346.97 L704.84,347.01 L705.09,347.05 L705.33,347.09 L705.57,347.12 L705.82,347.16 L706.06,347.20 L706.31,347.24 L706.55,347.27 L706.79,347.31 L707.04,347.35 L707.28,347.38 L707.52,347.42 L707.77,347.45 L708.01,347.49 L708.26,347.52 L708.50,347.56 L708.74,347.59 L708.99,347.63 L709.23,347.66 L709.47,347.70 L709.72,347.73 L709.96,347.77 L710.21,347.80 L710.45,347.84 L710.69,347.87 L710.94,347.90 L711.18,347.94 L711.43,347.97 L711.67,348.00 L711.91,348.04 L712.16,348.07 L712.40,348.10 L712.64,348.13 L712.89,348.17 L713.13,348.20 L713.38,348.23 L713.62,348.26 L713.86,348.29 L714.11,348.33 L714.35,348.36 L714.59,348.39 L714.84,348.42 L715.08,348.45 L715.33,348.48 L715.57,348.51 L715.81,348.54 L716.06,348.57 L716.30,348.60 L716.54,348.63 L716.79,348.66 L717.03,348.69 L717.28,348.72 L717.52,348.75 L717.76,348.78 L718.01,348.81 L718.25,348.84 L718.49,348.87 L718.74,348.90 L718.98,348.93 L719.23,348.96 L719.47,348.99 L719.71,349.02 L719.96,349.04 L720.20,349.07 L720.45,349.10 L720.69,349.13 L720.93,349.16 L721.18,349.18 L721.42,349.21 L721.66,349.24 L721.91,349.27 L722.15,349.29 L722.40,349.32 L722.64,349.35 L722.88,349.37 L723.13,349.40 L723.37,349.43 L723.61,349.45 L723.86,349.48 L724.10,349.51 L724.35,349.53 L724.59,349.56 L724.83,349.59 L725.08,349.61 L725.32,349.64 L725.56,349.66 L725.81,349.69 L726.05,349.72 L726.30,349.74 L726.54,349.77 L726.78,349.79 L727.03,349.82 L727.27,349.84 L727.52,349.87 L727.76,349.89 L728.00,349.92 L728.25,349.94 L728.49,349.96 L728.73,349.99 L728.98,350.01 L729.22,350.04 L729.47,350.06 L729.71,350.09 L729.95,350.11 L730.20,350.13 L730.44,350.16 L730.68,350.18 L730.93,350.20 L731.17,350.23 L731.42,350.25 L731.66,350.27 L731.90,350.30 L732.15,350.32 L732.39,350.34 L732.63,350.37 L732.88,350.39 L733.12,350.41 L733.37,350.43 L733.61,350.46 L733.85,350.48 L734.10,350.50 L734.34,350.52 L734.58,350.55 L734.83,350.57 L735.07,350.59 L735.32,350.61 L735.56,350.63 L735.80,350.66 L736.05,350.68 L736.29,350.70 L736.54,350.72 L736.78,350.74 L737.02,350.76 L737.27,350.78 L737.51,350.81 L737.75,350.83 L738.00,350.85 L738.24,350.87 L738.49,350.89 L738.73,350.91 L738.97,350.93 L739.22,350.95 L739.46,350.97 L739.70,350.99 L739.95,351.01 L740.19,351.03 L740.44,351.05 L740.68,351.07 L740.92,351.09 L741.17,351.11 L741.41,351.13 L741.65,351.15 L741.90,351.17 L742.14,351.19 L742.39,351.21 L742.63,351.23 L742.87,351.25 L743.12,351.27 L743.36,351.29 L743.60,351.31 L743.85,351.33 L744.09,351.35 L744.34,351.37 L744.58,351.39 L744.82,351.41 L745.07,351.43 L745.31,351.44 L745.56,351.46 L745.80,351.48 L746.04,351.50 L746.29,351.52 L746.53,351.54 L746.77,351.56 L747.02,351.57 L747.26,351.59 L747.51,351.61 L747.75,351.63 L747.99,351.65 L748.24,351.67 L748.48,351.68 L748.72,351.70 L748.97,351.72 L749.21,351.74 L749.46,351.75 L749.70,351.77 L749.94,351.79 L750.19,351.81 L750.43,351.83 L750.67,351.84 L750.92,351.86 L751.16,351.88 L751.41,351.89 L751.65,351.91 L751.89,351.93 L752.14,351.95 L752.38,351.96 L752.63,351.98 L752.87,352.00 L753.11,352.01 L753.36,352.03 L753.60,352.05 L753.84,352.06 L754.09,352.08 L754.33,352.10 L754.58,352.11 L754.82,352.13 L755.06,352.15 L755.31,352.16 L755.55,352.18 L755.79,352.20 L756.04,352.21 L756.28,352.23 L756.53,352.24 L756.77,352.26 L757.01,352.28 L757.26,352.29 L757.50,352.31 L757.74,352.32 L757.99,352.34 L758.23,352.36 L758.48,352.37 L758.72,352.39 L758.96,352.40 L759.21,352.42 L759.45,352.43 L759.69,352.45 L759.94,352.46 L760.18,352.48 L760.43,352.49 L760.67,352.51 L760.91,352.52 L761.16,352.54 L761.40,352.56 L761.65,352.57 L761.89,352.59 L762.13,352.60 L762.38,352.61 L762.62,352.63 L762.86,352.64 L763.11,352.66 L763.35,352.67 L763.60,352.69 L763.84,352.70 L764.08,352.72 L764.33,352.73 L764.57,352.75 L764.81,352.76 L765.06,352.78 L765.30,352.79 L765.55,352.80 L765.79,352.82 L766.03,352.83 L766.28,352.85 L766.52,352.86 L766.76,352.88 L767.01,352.89 L767.25,352.90 L767.50,352.92 L767.74,352.93 L767.98,352.94 L768.23,352.96 L768.47,352.97 L768.71,352.99 L768.96,353.00 L769.20,353.01 L769.45,353.03 L769.69,353.04 L769.93,353.05 L770.18,353.07 L770.42,353.08 L770.67,353.09 L770.91,353.11 L771.15,353.12 L771.40,353.13 L771.64,353.15 L771.88,353.16 L772.13,353.17 L772.37,353.19 L772.62,353.20 L772.86,353.21 L773.10,353.23 L773.35,353.24 L773.59,353.25 L773.83,353.27 L774.08,353.28 L774.32,353.29 L774.57,353.30 L774.81,353.32 L775.05,353.33 L775.30,353.34 L775.54,353.35 L775.78,353.37 L776.03,353.38 L776.27,353.39 L776.52,353.40 L776.76,353.42 L777.00,353.43 L777.25,353.44 L777.49,353.45 L777.74,353.47 L777.98,353.48 L778.22,353.49 L778.47,353.50 L778.71,353.52 L778.95,353.53 L779.20,353.54 L779.44,353.55 L779.69,353.56 L779.93,353.58 L780.17,353.59 L780.42,353.60 L780.66,353.61 L780.90,353.62 L781.15,353.64 L781.39,353.65 L781.64,353.66 L781.88,353.67 L782.12,353.68 L782.37,353.69 L782.61,353.71 L782.85,353.72 L783.10,353.73 L783.34,353.74 L783.59,353.75 L783.83,353.76 L784.07,353.77 L784.32,353.79 L784.56,353.80 L784.80,353.81 L785.05,353.82 L785.29,353.83 L785.54,353.84 L785.78,353.85 L786.02,353.87 L786.27,353.88 L786.51,353.89 L786.76,353.90 L787.00,353.91 L787.24,353.92 L787.49,353.93 L787.73,353.94 L787.97,353.95 L788.22,353.96 L788.46,353.98 L788.71,353.99 L788.95,354.00 L789.19,354.01 L789.44,354.02 L789.68,354.03 L789.92,354.04 L790.17,354.05 L790.41,354.06 L790.66,354.07 L790.90,354.08 L791.14,354.09 L791.39,354.10 L791.63,354.11 L791.87,354.12 L792.12,354.14 L792.36,354.15 L792.61,354.16 L792.85,354.17 L793.09,354.18 L793.34,354.19 L793.58,354.20 L793.82,354.21 L794.07,354.22 L794.31,354.23 L794.56,354.24 L794.80,354.25 L795.04,354.26 L795.29,354.27 L795.53,354.28 L795.78,354.29 L796.02,354.30 L796.26,354.31 L796.51,354.32 L796.75,354.33 L796.99,354.34 L797.24,354.35 L797.48,354.36 L797.73,354.37 L797.97,354.38 L798.21,354.39 L798.46,354.40 L798.70,354.41 L798.94,354.42 L799.19,354.43 L799.43,354.44 L799.68,354.45 L799.92,354.46 L800.16,354.47 L800.41,354.48 L800.65,354.48 L800.89,354.49 L801.14,354.50 L801.38,354.51 L801.63,354.52 L801.87,354.53 L802.11,354.54 L802.36,354.55 L802.60,354.56 L802.85,354.57 L803.09,354.58 L803.33,354.59 L803.58,354.60 L803.82,354.61 L804.06,354.62 L804.31,354.62 L804.55,354.63 L804.80,354.64 L805.04,354.65 L805.28,354.66 L805.53,354.67 L805.77,354.68 L806.01,354.69 L806.26,354.70 L806.50,354.71 L806.75,354.72 L806.99,354.72 L807.23,354.73 L807.48,354.74 L807.72,354.75 L807.96,354.76 L808.21,354.77 L808.45,354.78 L808.70,354.79 L808.94,354.80 L809.18,354.80 L809.43,354.81 L809.67,354.82 L809.91,354.83 L810.16,354.84 L810.40,354.85 L810.65,354.86 L810.89,354.86 L811.13,354.87 L811.38,354.88 L811.62,354.89 L811.87,354.90 L812.11,354.91 L812.35,354.92 L812.60,354.92 L812.84,354.93 L813.08,354.94 L813.33,354.95 L813.57,354.96 L813.82,354.97 L814.06,354.97 L814.30,354.98 L814.55,354.99 L814.79,355.00 L815.03,355.01 L815.28,355.02 L815.52,355.02 L815.77,355.03 L816.01,355.04 L816.25,355.05 L816.50,355.06 L816.74,355.07 L816.98,355.07 L817.23,355.08 L817.47,355.09 L817.72,355.10 L817.96,355.11 L818.20,355.11 L818.45,355.12 L818.69,355.13 L818.93,355.14 L819.18,355.15 L819.42,355.15 L819.67,355.16 L819.91,355.17 L820.15,355.18 L820.40,355.19 L820.64,355.19 L820.89,355.20 L821.13,355.21 L821.37,355.22 L821.62,355.22 L821.86,355.23 L822.10,355.24 L822.35,355.25 L822.59,355.25 L822.84,355.26 L823.08,355.27 L823.32,355.28 L823.57,355.29 L823.81,355.29 L824.05,355.30 L824.30,355.31 L824.54,355.32 L824.79,355.32 L825.03,355.33 L825.27,355.34 L825.52,355.35 L825.76,355.35 L826.00,355.36 L826.25,355.37 L826.49,355.38 L826.74,355.38 L826.98,355.39 L827.22,355.40 L827.47,355.41 L827.71,355.41 L827.96,355.42 L828.20,355.43 L828.44,355.43 L828.69,355.44 L828.93,355.45 L829.17,355.46 L829.42,355.46 L829.66,355.47 L829.91,355.48 L830.15,355.48 L830.39,355.49 L830.64,355.50 L830.88,355.51 L831.12,355.51 L831.37,355.52 L831.61,355.53 L831.86,355.53 L832.10,355.54 L832.34,355.55 L832.59,355.56 L832.83,355.56 L833.07,355.57 L833.32,355.58 L833.56,355.58 L833.81,355.59 L834.05,355.60 L834.29,355.60 L834.54,355.61 L834.78,355.62 L835.02,355.63 L835.27,355.63 L835.51,355.64 L835.76,355.65 L836.00,355.65" fill="none" stroke="#111" stroke-width="2.7" stroke-dasharray="10 3.5 3.5 3.5" stroke-linejoin="round"/>
<path d="M494.94,353.66 L495.19,353.65 L495.43,353.64 L495.67,353.62 L495.92,353.61 L496.16,353.60 L496.41,353.59 L496.65,353.58 L496.89,353.56 L497.14,353.55 L497.38,353.54 L497.62,353.53 L497.87,353.52 L498.11,353.50 L498.36,353.49 L498.60,353.48 L498.84,353.47 L499.09,353.45 L499.33,353.44 L499.57,353.43 L499.82,353.42 L500.06,353.40 L500.31,353.39 L500.55,353.38 L500.79,353.37 L501.04,353.35 L501.28,353.34 L501.53,353.33 L501.77,353.32 L502.01,353.30 L502.26,353.29 L502.50,353.28 L502.74,353.27 L502.99,353.25 L503.23,353.24 L503.48,353.23 L503.72,353.21 L503.96,353.20 L504.21,353.19 L504.45,353.17 L504.69,353.16 L504.94,353.15 L505.18,353.13 L505.43,353.12 L505.67,353.11 L505.91,353.09 L506.16,353.08 L506.40,353.07 L506.64,353.05 L506.89,353.04 L507.13,353.03 L507.38,353.01 L507.62,353.00 L507.86,352.99 L508.11,352.97 L508.35,352.96 L508.59,352.94 L508.84,352.93 L509.08,352.92 L509.33,352.90 L509.57,352.89 L509.81,352.87 L510.06,352.86 L510.30,352.85 L510.55,352.83 L510.79,352.82 L511.03,352.80 L511.28,352.79 L511.52,352.78 L511.76,352.76 L512.01,352.75 L512.25,352.73 L512.50,352.72 L512.74,352.70 L512.98,352.69 L513.23,352.67 L513.47,352.66 L513.71,352.64 L513.96,352.63 L514.20,352.61 L514.45,352.60 L514.69,352.58 L514.93,352.57 L515.18,352.55 L515.42,352.54 L515.66,352.52 L515.91,352.51 L516.15,352.49 L516.40,352.48 L516.64,352.46 L516.88,352.45 L517.13,352.43 L517.37,352.42 L517.61,352.40 L517.86,352.39 L518.10,352.37 L518.35,352.35 L518.59,352.34 L518.83,352.32 L519.08,352.31 L519.32,352.29 L519.57,352.28 L519.81,352.26 L520.05,352.24 L520.30,352.23 L520.54,352.21 L520.78,352.20 L521.03,352.18 L521.27,352.16 L521.52,352.15 L521.76,352.13 L522.00,352.11 L522.25,352.10 L522.49,352.08 L522.73,352.06 L522.98,352.05 L523.22,352.03 L523.47,352.01 L523.71,352.00 L523.95,351.98 L524.20,351.96 L524.44,351.95 L524.68,351.93 L524.93,351.91 L525.17,351.89 L525.42,351.88 L525.66,351.86 L525.90,351.84 L526.15,351.82 L526.39,351.81 L526.64,351.79 L526.88,351.77 L527.12,351.75 L527.37,351.74 L527.61,351.72 L527.85,351.70 L528.10,351.68 L528.34,351.66 L528.59,351.65 L528.83,351.63 L529.07,351.61 L529.32,351.59 L529.56,351.57 L529.80,351.56 L530.05,351.54 L530.29,351.52 L530.54,351.50 L530.78,351.48 L531.02,351.46 L531.27,351.44 L531.51,351.42 L531.75,351.41 L532.00,351.39 L532.24,351.37 L532.49,351.35 L532.73,351.33 L532.97,351.31 L533.22,351.29 L533.46,351.27 L533.70,351.25 L533.95,351.23 L534.19,351.21 L534.44,351.19 L534.68,351.17 L534.92,351.15 L535.17,351.13 L535.41,351.11 L535.66,351.09 L535.90,351.07 L536.14,351.05 L536.39,351.03 L536.63,351.01 L536.87,350.99 L537.12,350.97 L537.36,350.95 L537.61,350.93 L537.85,350.91 L538.09,350.89 L538.34,350.87 L538.58,350.85 L538.82,350.83 L539.07,350.81 L539.31,350.78 L539.56,350.76 L539.80,350.74 L540.04,350.72 L540.29,350.70 L540.53,350.68 L540.77,350.66 L541.02,350.63 L541.26,350.61 L541.51,350.59 L541.75,350.57 L541.99,350.55 L542.24,350.52 L542.48,350.50 L542.72,350.48 L542.97,350.46 L543.21,350.43 L543.46,350.41 L543.70,350.39 L543.94,350.37 L544.19,350.34 L544.43,350.32 L544.68,350.30 L544.92,350.27 L545.16,350.25 L545.41,350.23 L545.65,350.20 L545.89,350.18 L546.14,350.16 L546.38,350.13 L546.63,350.11 L546.87,350.08 L547.11,350.06 L547.36,350.04 L547.60,350.01 L547.84,349.99 L548.09,349.96 L548.33,349.94 L548.58,349.91 L548.82,349.89 L549.06,349.87 L549.31,349.84 L549.55,349.82 L549.79,349.79 L550.04,349.77 L550.28,349.74 L550.53,349.71 L550.77,349.69 L551.01,349.66 L551.26,349.64 L551.50,349.61 L551.75,349.59 L551.99,349.56 L552.23,349.53 L552.48,349.51 L552.72,349.48 L552.96,349.45 L553.21,349.43 L553.45,349.40 L553.70,349.37 L553.94,349.35 L554.18,349.32 L554.43,349.29 L554.67,349.27 L554.91,349.24 L555.16,349.21 L555.40,349.18 L555.65,349.15 L555.89,349.13 L556.13,349.10 L556.38,349.07 L556.62,349.04 L556.86,349.01 L557.11,348.99 L557.35,348.96 L557.60,348.93 L557.84,348.90 L558.08,348.87 L558.33,348.84 L558.57,348.81 L558.81,348.78 L559.06,348.75 L559.30,348.72 L559.55,348.69 L559.79,348.66 L560.03,348.63 L560.28,348.60 L560.52,348.57 L560.77,348.54 L561.01,348.51 L561.25,348.48 L561.50,348.45 L561.74,348.42 L561.98,348.39 L562.23,348.36 L562.47,348.32 L562.72,348.29 L562.96,348.26 L563.20,348.23 L563.45,348.20 L563.69,348.17 L563.93,348.13 L564.18,348.10 L564.42,348.07 L564.67,348.03 L564.91,348.00 L565.15,347.97 L565.40,347.94 L565.64,347.90 L565.88,347.87 L566.13,347.83 L566.37,347.80 L566.62,347.77 L566.86,347.73 L567.10,347.70 L567.35,347.66 L567.59,347.63 L567.83,347.59 L568.08,347.56 L568.32,347.52 L568.57,347.49 L568.81,347.45 L569.05,347.42 L569.30,347.38 L569.54,347.34 L569.79,347.31 L570.03,347.27 L570.27,347.23 L570.52,347.20 L570.76,347.16 L571.00,347.12 L571.25,347.09 L571.49,347.05 L571.74,347.01 L571.98,346.97 L572.22,346.93 L572.47,346.90 L572.71,346.86 L572.95,346.82 L573.20,346.78 L573.44,346.74 L573.69,346.70 L573.93,346.66 L574.17,346.62 L574.42,346.58 L574.66,346.54 L574.90,346.50 L575.15,346.46 L575.39,346.42 L575.64,346.38 L575.88,346.34 L576.12,346.30 L576.37,346.25 L576.61,346.21 L576.86,346.17 L577.10,346.13 L577.34,346.08 L577.59,346.04 L577.83,346.00 L578.07,345.96 L578.32,345.91 L578.56,345.87 L578.81,345.82 L579.05,345.78 L579.29,345.74 L579.54,345.69 L579.78,345.65 L580.02,345.60 L580.27,345.55 L580.51,345.51 L580.76,345.46 L581.00,345.42 L581.24,345.37 L581.49,345.32 L581.73,345.28 L581.97,345.23 L582.22,345.18 L582.46,345.13 L582.71,345.09 L582.95,345.04 L583.19,344.99 L583.44,344.94 L583.68,344.89 L583.92,344.84 L584.17,344.79 L584.41,344.74 L584.66,344.69 L584.90,344.64 L585.14,344.59 L585.39,344.54 L585.63,344.49 L585.88,344.43 L586.12,344.38 L586.36,344.33 L586.61,344.28 L586.85,344.22 L587.09,344.17 L587.34,344.12 L587.58,344.06 L587.83,344.01 L588.07,343.95 L588.31,343.90 L588.56,343.84 L588.80,343.79 L589.04,343.73 L589.29,343.67 L589.53,343.62 L589.78,343.56 L590.02,343.50 L590.26,343.44 L590.51,343.39 L590.75,343.33 L590.99,343.27 L591.24,343.21 L591.48,343.15 L591.73,343.09 L591.97,343.03 L592.21,342.97 L592.46,342.91 L592.70,342.85 L592.94,342.78 L593.19,342.72 L593.43,342.66 L593.68,342.59 L593.92,342.53 L594.16,342.47 L594.41,342.40 L594.65,342.34 L594.90,342.27 L595.14,342.21 L595.38,342.14 L595.63,342.07 L595.87,342.01 L596.11,341.94 L596.36,341.87 L596.60,341.80 L596.85,341.73 L597.09,341.66 L597.33,341.59 L597.58,341.52 L597.82,341.45 L598.06,341.38 L598.31,341.31 L598.55,341.24 L598.80,341.16 L599.04,341.09 L599.28,341.02 L599.53,340.94 L599.77,340.87 L600.01,340.79 L600.26,340.71 L600.50,340.64 L600.75,340.56 L600.99,340.48 L601.23,340.40 L601.48,340.33 L601.72,340.25 L601.97,340.17 L602.21,340.09 L602.45,340.00 L602.70,339.92 L602.94,339.84 L603.18,339.76 L603.43,339.67 L603.67,339.59 L603.92,339.50 L604.16,339.42 L604.40,339.33 L604.65,339.25 L604.89,339.16 L605.13,339.07 L605.38,338.98 L605.62,338.89 L605.87,338.80 L606.11,338.71 L606.35,338.62 L606.60,338.52 L606.84,338.43 L607.08,338.34 L607.33,338.24 L607.57,338.15 L607.82,338.05 L608.06,337.95 L608.30,337.86 L608.55,337.76 L608.79,337.66 L609.03,337.56 L609.28,337.46 L609.52,337.36 L609.77,337.25 L610.01,337.15 L610.25,337.04 L610.50,336.94 L610.74,336.83 L610.99,336.73 L611.23,336.62 L611.47,336.51 L611.72,336.40 L611.96,336.29 L612.20,336.18 L612.45,336.06 L612.69,335.95 L612.94,335.83 L613.18,335.72 L613.42,335.60 L613.67,335.48 L613.91,335.37 L614.15,335.25 L614.40,335.12 L614.64,335.00 L614.89,334.88 L615.13,334.75 L615.37,334.63 L615.62,334.50 L615.86,334.37 L616.10,334.25 L616.35,334.11 L616.59,333.98 L616.84,333.85 L617.08,333.72 L617.32,333.58 L617.57,333.44 L617.81,333.31 L618.05,333.17 L618.30,333.03 L618.54,332.89 L618.79,332.74 L619.03,332.60 L619.27,332.45 L619.52,332.30 L619.76,332.15 L620.01,332.00 L620.25,331.85 L620.49,331.70 L620.74,331.54 L620.98,331.39 L621.22,331.23 L621.47,331.07 L621.71,330.91 L621.96,330.74 L622.20,330.58 L622.44,330.41 L622.69,330.24 L622.93,330.07 L623.17,329.90 L623.42,329.72 L623.66,329.55 L623.91,329.37 L624.15,329.19 L624.39,329.01 L624.64,328.82 L624.88,328.64 L625.12,328.45 L625.37,328.26 L625.61,328.07 L625.86,327.87 L626.10,327.68 L626.34,327.48 L626.59,327.27 L626.83,327.07 L627.08,326.86 L627.32,326.66 L627.56,326.44 L627.81,326.23 L628.05,326.02 L628.29,325.80 L628.54,325.57 L628.78,325.35 L629.03,325.12 L629.27,324.89 L629.51,324.66 L629.76,324.43 L630.00,324.19 L630.24,323.95 L630.49,323.70 L630.73,323.45 L630.98,323.20 L631.22,322.95 L631.46,322.69 L631.71,322.43 L631.95,322.17 L632.19,321.90 L632.44,321.63 L632.68,321.35 L632.93,321.07 L633.17,320.79 L633.41,320.50 L633.66,320.21 L633.90,319.92 L634.14,319.62 L634.39,319.31 L634.63,319.01 L634.88,318.69 L635.12,318.38 L635.36,318.06 L635.61,317.73 L635.85,317.40 L636.10,317.07 L636.34,316.72 L636.58,316.38 L636.83,316.03 L637.07,315.67 L637.31,315.31 L637.56,314.94 L637.80,314.57 L638.05,314.19 L638.29,313.80 L638.53,313.41 L638.78,313.01 L639.02,312.61 L639.26,312.20 L639.51,311.78 L639.75,311.36 L640.00,310.92 L640.24,310.48 L640.48,310.04 L640.73,309.58 L640.97,309.12 L641.21,308.65 L641.46,308.17 L641.70,307.68 L641.95,307.19 L642.19,306.68 L642.43,306.17 L642.68,305.64 L642.92,305.11 L643.16,304.56 L643.41,304.01 L643.65,303.44 L643.90,302.87 L644.14,302.28 L644.38,301.68 L644.63,301.07 L644.87,300.45 L645.12,299.81 L645.36,299.16 L645.60,298.50 L645.85,297.82 L646.09,297.13 L646.33,296.43 L646.58,295.71 L646.82,294.97 L647.07,294.22 L647.31,293.45 L647.55,292.66 L647.80,291.86 L648.04,291.04 L648.28,290.19 L648.53,289.33 L648.77,288.45 L649.02,287.55 L649.26,286.62 L649.50,285.67 L649.75,284.70 L649.99,283.71 L650.23,282.69 L650.48,281.64 L650.72,280.57 L650.97,279.46 L651.21,278.33 L651.45,277.17 L651.70,275.98 L651.94,274.75 L652.19,273.49 L652.43,272.19 L652.67,270.86 L652.92,269.49 L653.16,268.07 L653.40,266.62 L653.65,265.12 L653.89,263.58 L654.14,261.99 L654.38,260.34 L654.62,258.65 L654.87,256.90 L655.11,255.10 L655.35,253.23 L655.60,251.31 L655.84,249.31 L656.09,247.25 L656.33,245.12 L656.57,242.91 L656.82,240.63 L657.06,238.26 L657.30,235.80 L657.55,233.25 L657.79,230.61 L658.04,227.86 L658.28,225.01 L658.52,222.05 L658.77,218.96 L659.01,215.76 L659.25,212.43 L659.50,208.95 L659.74,205.34 L659.99,201.57 L660.23,197.65 L660.47,193.56 L660.72,189.29 L660.96,184.85 L661.21,180.21 L661.45,175.37 L661.69,170.33 L661.94,165.07 L662.18,159.59 L662.42,153.89 L662.67,147.95 L662.91,141.78 L663.16,135.38 L663.40,128.75 L663.64,121.89 L663.89,114.82 L664.13,107.56 L664.37,100.14 L664.62,92.58 L664.86,84.94 L665.11,77.27 L665.35,69.64 L665.59,62.14 L665.84,54.85 L666.08,47.90 L666.32,41.39 L666.57,35.46 L666.81,30.24 L667.06,25.84 L667.30,23.50 L667.54,23.50 L667.79,23.50 L668.03,23.50 L668.27,23.50 L668.52,23.50 L668.76,24.79 L669.01,28.94 L669.25,33.95 L669.49,39.69 L669.74,46.05 L669.98,52.90 L670.23,60.10 L670.47,67.56 L670.71,75.16 L670.96,82.83 L671.20,90.48 L671.44,98.07 L671.69,105.53 L671.93,112.84 L672.18,119.96 L672.42,126.88 L672.66,133.58 L672.91,140.04 L673.15,146.28 L673.39,152.28 L673.64,158.05 L673.88,163.59 L674.13,168.90 L674.37,174.00 L674.61,178.90 L674.86,183.59 L675.10,188.09 L675.34,192.40 L675.59,196.54 L675.83,200.51 L676.08,204.32 L676.32,207.97 L676.56,211.48 L676.81,214.86 L677.05,218.09 L677.30,221.21 L677.54,224.20 L677.78,227.09 L678.03,229.86 L678.27,232.53 L678.51,235.11 L678.76,237.59 L679.00,239.98 L679.25,242.29 L679.49,244.52 L679.73,246.67 L679.98,248.75 L680.22,250.76 L680.46,252.71 L680.71,254.59 L680.95,256.41 L681.20,258.17 L681.44,259.88 L681.68,261.54 L681.93,263.14 L682.17,264.70 L682.41,266.21 L682.66,267.68 L682.90,269.10 L683.15,270.48 L683.39,271.83 L683.63,273.13 L683.88,274.41 L684.12,275.64 L684.36,276.84 L684.61,278.01 L684.85,279.15 L685.10,280.27 L685.34,281.35 L685.58,282.40 L685.83,283.43 L686.07,284.43 L686.32,285.41 L686.56,286.36 L686.80,287.29 L687.05,288.20 L687.29,289.09 L687.53,289.96 L687.78,290.81 L688.02,291.63 L688.27,292.44 L688.51,293.23 L688.75,294.01 L689.00,294.77 L689.24,295.51 L689.48,296.23 L689.73,296.94 L689.97,297.63 L690.22,298.31 L690.46,298.98 L690.70,299.63 L690.95,300.27 L691.19,300.90 L691.43,301.51 L691.68,302.12 L691.92,302.71 L692.17,303.29 L692.41,303.85 L692.65,304.41 L692.90,304.96 L693.14,305.50 L693.38,306.02 L693.63,306.54 L693.87,307.05 L694.12,307.55 L694.36,308.04 L694.60,308.52 L694.85,308.99 L695.09,309.46 L695.34,309.91 L695.58,310.36 L695.82,310.80 L696.07,311.24 L696.31,311.66 L696.55,312.08 L696.80,312.50 L697.04,312.90 L697.29,313.30 L697.53,313.70 L697.77,314.08 L698.02,314.46 L698.26,314.84 L698.50,315.21 L698.75,315.57 L698.99,315.93 L699.24,316.28 L699.48,316.63 L699.72,316.97 L699.97,317.31 L700.21,317.64 L700.45,317.97 L700.70,318.29 L700.94,318.61 L701.19,318.92 L701.43,319.23 L701.67,319.53 L701.92,319.83 L702.16,320.13 L702.41,320.42 L702.65,320.71 L702.89,320.99 L703.14,321.27 L703.38,321.55 L703.62,321.82 L703.87,322.09 L704.11,322.36 L704.36,322.62 L704.60,322.88 L704.84,323.13 L705.09,323.38 L705.33,323.63 L705.57,323.88 L705.82,324.12 L706.06,324.36 L706.31,324.60 L706.55,324.83 L706.79,325.06 L707.04,325.29 L707.28,325.51 L707.52,325.74 L707.77,325.96 L708.01,326.17 L708.26,326.39 L708.50,326.60 L708.74,326.81 L708.99,327.01 L709.23,327.22 L709.47,327.42 L709.72,327.62 L709.96,327.82 L710.21,328.01 L710.45,328.21 L710.69,328.40 L710.94,328.59 L711.18,328.77 L711.43,328.96 L711.67,329.14 L711.91,329.32 L712.16,329.50 L712.40,329.68 L712.64,329.85 L712.89,330.02 L713.13,330.19 L713.38,330.36 L713.62,330.53 L713.86,330.70 L714.11,330.86 L714.35,331.02 L714.59,331.18 L714.84,331.34 L715.08,331.50 L715.33,331.66 L715.57,331.81 L715.81,331.96 L716.06,332.11 L716.30,332.26 L716.54,332.41 L716.79,332.56 L717.03,332.70 L717.28,332.85 L717.52,332.99 L717.76,333.13 L718.01,333.27 L718.25,333.41 L718.49,333.54 L718.74,333.68 L718.98,333.81 L719.23,333.95 L719.47,334.08 L719.71,334.21 L719.96,334.34 L720.20,334.47 L720.45,334.59 L720.69,334.72 L720.93,334.84 L721.18,334.97 L721.42,335.09 L721.66,335.21 L721.91,335.33 L722.15,335.45 L722.40,335.57 L722.64,335.69 L722.88,335.80 L723.13,335.92 L723.37,336.03 L723.61,336.15 L723.86,336.26 L724.10,336.37 L724.35,336.48 L724.59,336.59 L724.83,336.70 L725.08,336.80 L725.32,336.91 L725.56,337.02 L725.81,337.12 L726.05,337.22 L726.30,337.33 L726.54,337.43 L726.78,337.53 L727.03,337.63 L727.27,337.73 L727.52,337.83 L727.76,337.93 L728.00,338.02 L728.25,338.12 L728.49,338.22 L728.73,338.31 L728.98,338.41 L729.22,338.50 L729.47,338.59 L729.71,338.68 L729.95,338.78 L730.20,338.87 L730.44,338.96 L730.68,339.04 L730.93,339.13 L731.17,339.22 L731.42,339.31 L731.66,339.39 L731.90,339.48 L732.15,339.57 L732.39,339.65 L732.63,339.73 L732.88,339.82 L733.12,339.90 L733.37,339.98 L733.61,340.06 L733.85,340.14 L734.10,340.22 L734.34,340.30 L734.58,340.38 L734.83,340.46 L735.07,340.54 L735.32,340.62 L735.56,340.69 L735.80,340.77 L736.05,340.85 L736.29,340.92 L736.54,341.00 L736.78,341.07 L737.02,341.14 L737.27,341.22 L737.51,341.29 L737.75,341.36 L738.00,341.43 L738.24,341.50 L738.49,341.57 L738.73,341.64 L738.97,341.71 L739.22,341.78 L739.46,341.85 L739.70,341.92 L739.95,341.99 L740.19,342.05 L740.44,342.12 L740.68,342.19 L740.92,342.25 L741.17,342.32 L741.41,342.38 L741.65,342.45 L741.90,342.51 L742.14,342.58 L742.39,342.64 L742.63,342.70 L742.87,342.77 L743.12,342.83 L743.36,342.89 L743.60,342.95 L743.85,343.01 L744.09,343.07 L744.34,343.13 L744.58,343.19 L744.82,343.25 L745.07,343.31 L745.31,343.37 L745.56,343.43 L745.80,343.49 L746.04,343.54 L746.29,343.60 L746.53,343.66 L746.77,343.72 L747.02,343.77 L747.26,343.83 L747.51,343.88 L747.75,343.94 L747.99,343.99 L748.24,344.05 L748.48,344.10 L748.72,344.16 L748.97,344.21 L749.21,344.26 L749.46,344.31 L749.70,344.37 L749.94,344.42 L750.19,344.47 L750.43,344.52 L750.67,344.57 L750.92,344.63 L751.16,344.68 L751.41,344.73 L751.65,344.78 L751.89,344.83 L752.14,344.88 L752.38,344.93 L752.63,344.98 L752.87,345.02 L753.11,345.07 L753.36,345.12 L753.60,345.17 L753.84,345.22 L754.09,345.26 L754.33,345.31 L754.58,345.36 L754.82,345.40 L755.06,345.45 L755.31,345.50 L755.55,345.54 L755.79,345.59 L756.04,345.63 L756.28,345.68 L756.53,345.72 L756.77,345.77 L757.01,345.81 L757.26,345.86 L757.50,345.90 L757.74,345.94 L757.99,345.99 L758.23,346.03 L758.48,346.07 L758.72,346.12 L758.96,346.16 L759.21,346.20 L759.45,346.24 L759.69,346.28 L759.94,346.33 L760.18,346.37 L760.43,346.41 L760.67,346.45 L760.91,346.49 L761.16,346.53 L761.40,346.57 L761.65,346.61 L761.89,346.65 L762.13,346.69 L762.38,346.73 L762.62,346.77 L762.86,346.81 L763.11,346.85 L763.35,346.89 L763.60,346.92 L763.84,346.96 L764.08,347.00 L764.33,347.04 L764.57,347.08 L764.81,347.11 L765.06,347.15 L765.30,347.19 L765.55,347.22 L765.79,347.26 L766.03,347.30 L766.28,347.33 L766.52,347.37 L766.76,347.41 L767.01,347.44 L767.25,347.48 L767.50,347.51 L767.74,347.55 L767.98,347.58 L768.23,347.62 L768.47,347.65 L768.71,347.69 L768.96,347.72 L769.20,347.76 L769.45,347.79 L769.69,347.83 L769.93,347.86 L770.18,347.89 L770.42,347.93 L770.67,347.96 L770.91,347.99 L771.15,348.03 L771.40,348.06 L771.64,348.09 L771.88,348.12 L772.13,348.16 L772.37,348.19 L772.62,348.22 L772.86,348.25 L773.10,348.28 L773.35,348.32 L773.59,348.35 L773.83,348.38 L774.08,348.41 L774.32,348.44 L774.57,348.47 L774.81,348.50 L775.05,348.53 L775.30,348.56 L775.54,348.59 L775.78,348.63 L776.03,348.66 L776.27,348.69 L776.52,348.72 L776.76,348.74 L777.00,348.77 L777.25,348.80 L777.49,348.83 L777.74,348.86 L777.98,348.89 L778.22,348.92 L778.47,348.95 L778.71,348.98 L778.95,349.01 L779.20,349.03 L779.44,349.06 L779.69,349.09 L779.93,349.12 L780.17,349.15 L780.42,349.18 L780.66,349.20 L780.90,349.23 L781.15,349.26 L781.39,349.29 L781.64,349.31 L781.88,349.34 L782.12,349.37 L782.37,349.39 L782.61,349.42 L782.85,349.45 L783.10,349.47 L783.34,349.50 L783.59,349.53 L783.83,349.55 L784.07,349.58 L784.32,349.60 L784.56,349.63 L784.80,349.66 L785.05,349.68 L785.29,349.71 L785.54,349.73 L785.78,349.76 L786.02,349.78 L786.27,349.81 L786.51,349.83 L786.76,349.86 L787.00,349.88 L787.24,349.91 L787.49,349.93 L787.73,349.96 L787.97,349.98 L788.22,350.01 L788.46,350.03 L788.71,350.05 L788.95,350.08 L789.19,350.10 L789.44,350.13 L789.68,350.15 L789.92,350.17 L790.17,350.20 L790.41,350.22 L790.66,350.24 L790.90,350.27 L791.14,350.29 L791.39,350.31 L791.63,350.34 L791.87,350.36 L792.12,350.38 L792.36,350.40 L792.61,350.43 L792.85,350.45 L793.09,350.47 L793.34,350.50 L793.58,350.52 L793.82,350.54 L794.07,350.56 L794.31,350.58 L794.56,350.61 L794.80,350.63 L795.04,350.65 L795.29,350.67 L795.53,350.69 L795.78,350.71 L796.02,350.74 L796.26,350.76 L796.51,350.78 L796.75,350.80 L796.99,350.82 L797.24,350.84 L797.48,350.86 L797.73,350.88 L797.97,350.90 L798.21,350.93 L798.46,350.95 L798.70,350.97 L798.94,350.99 L799.19,351.01 L799.43,351.03 L799.68,351.05 L799.92,351.07 L800.16,351.09 L800.41,351.11 L800.65,351.13 L800.89,351.15 L801.14,351.17 L801.38,351.19 L801.63,351.21 L801.87,351.23 L802.11,351.25 L802.36,351.27 L802.60,351.29 L802.85,351.31 L803.09,351.32 L803.33,351.34 L803.58,351.36 L803.82,351.38 L804.06,351.40 L804.31,351.42 L804.55,351.44 L804.80,351.46 L805.04,351.48 L805.28,351.49 L805.53,351.51 L805.77,351.53 L806.01,351.55 L806.26,351.57 L806.50,351.59 L806.75,351.61 L806.99,351.62 L807.23,351.64 L807.48,351.66 L807.72,351.68 L807.96,351.70 L808.21,351.71 L808.45,351.73 L808.70,351.75 L808.94,351.77 L809.18,351.78 L809.43,351.80 L809.67,351.82 L809.91,351.84 L810.16,351.85 L810.40,351.87 L810.65,351.89 L810.89,351.91 L811.13,351.92 L811.38,351.94 L811.62,351.96 L811.87,351.97 L812.11,351.99 L812.35,352.01 L812.60,352.03 L812.84,352.04 L813.08,352.06 L813.33,352.08 L813.57,352.09 L813.82,352.11 L814.06,352.13 L814.30,352.14 L814.55,352.16 L814.79,352.17 L815.03,352.19 L815.28,352.21 L815.52,352.22 L815.77,352.24 L816.01,352.26 L816.25,352.27 L816.50,352.29 L816.74,352.30 L816.98,352.32 L817.23,352.33 L817.47,352.35 L817.72,352.37 L817.96,352.38 L818.20,352.40 L818.45,352.41 L818.69,352.43 L818.93,352.44 L819.18,352.46 L819.42,352.47 L819.67,352.49 L819.91,352.51 L820.15,352.52 L820.40,352.54 L820.64,352.55 L820.89,352.57 L821.13,352.58 L821.37,352.60 L821.62,352.61 L821.86,352.63 L822.10,352.64 L822.35,352.65 L822.59,352.67 L822.84,352.68 L823.08,352.70 L823.32,352.71 L823.57,352.73 L823.81,352.74 L824.05,352.76 L824.30,352.77 L824.54,352.79 L824.79,352.80 L825.03,352.81 L825.27,352.83 L825.52,352.84 L825.76,352.86 L826.00,352.87 L826.25,352.88 L826.49,352.90 L826.74,352.91 L826.98,352.93 L827.22,352.94 L827.47,352.95 L827.71,352.97 L827.96,352.98 L828.20,353.00 L828.44,353.01 L828.69,353.02 L828.93,353.04 L829.17,353.05 L829.42,353.06 L829.66,353.08 L829.91,353.09 L830.15,353.10 L830.39,353.12 L830.64,353.13 L830.88,353.14 L831.12,353.16 L831.37,353.17 L831.61,353.18 L831.86,353.20 L832.10,353.21 L832.34,353.22 L832.59,353.24 L832.83,353.25 L833.07,353.26 L833.32,353.27 L833.56,353.29 L833.81,353.30 L834.05,353.31 L834.29,353.33 L834.54,353.34 L834.78,353.35 L835.02,353.36 L835.27,353.38 L835.51,353.39 L835.76,353.40 L836.00,353.41" fill="none" stroke="#1c1cff" stroke-width="2.9" stroke-linejoin="round"/>
<path d="M494.94,355.79 L495.19,355.78 L495.43,355.77 L495.67,355.77 L495.92,355.76 L496.16,355.75 L496.41,355.75 L496.65,355.74 L496.89,355.73 L497.14,355.73 L497.38,355.72 L497.62,355.72 L497.87,355.71 L498.11,355.70 L498.36,355.69 L498.60,355.69 L498.84,355.68 L499.09,355.67 L499.33,355.67 L499.57,355.66 L499.82,355.65 L500.06,355.65 L500.31,355.64 L500.55,355.63 L500.79,355.63 L501.04,355.62 L501.28,355.61 L501.53,355.61 L501.77,355.60 L502.01,355.59 L502.26,355.59 L502.50,355.58 L502.74,355.57 L502.99,355.56 L503.23,355.56 L503.48,355.55 L503.72,355.54 L503.96,355.54 L504.21,355.53 L504.45,355.52 L504.69,355.52 L504.94,355.51 L505.18,355.50 L505.43,355.49 L505.67,355.49 L505.91,355.48 L506.16,355.47 L506.40,355.47 L506.64,355.46 L506.89,355.45 L507.13,355.44 L507.38,355.44 L507.62,355.43 L507.86,355.42 L508.11,355.41 L508.35,355.41 L508.59,355.40 L508.84,355.39 L509.08,355.39 L509.33,355.38 L509.57,355.37 L509.81,355.36 L510.06,355.36 L510.30,355.35 L510.55,355.34 L510.79,355.33 L511.03,355.33 L511.28,355.32 L511.52,355.31 L511.76,355.30 L512.01,355.30 L512.25,355.29 L512.50,355.28 L512.74,355.27 L512.98,355.26 L513.23,355.26 L513.47,355.25 L513.71,355.24 L513.96,355.23 L514.20,355.23 L514.45,355.22 L514.69,355.21 L514.93,355.20 L515.18,355.20 L515.42,355.19 L515.66,355.18 L515.91,355.17 L516.15,355.16 L516.40,355.16 L516.64,355.15 L516.88,355.14 L517.13,355.13 L517.37,355.12 L517.61,355.12 L517.86,355.11 L518.10,355.10 L518.35,355.09 L518.59,355.08 L518.83,355.08 L519.08,355.07 L519.32,355.06 L519.57,355.05 L519.81,355.04 L520.05,355.04 L520.30,355.03 L520.54,355.02 L520.78,355.01 L521.03,355.00 L521.27,354.99 L521.52,354.99 L521.76,354.98 L522.00,354.97 L522.25,354.96 L522.49,354.95 L522.73,354.94 L522.98,354.94 L523.22,354.93 L523.47,354.92 L523.71,354.91 L523.95,354.90 L524.20,354.89 L524.44,354.88 L524.68,354.88 L524.93,354.87 L525.17,354.86 L525.42,354.85 L525.66,354.84 L525.90,354.83 L526.15,354.82 L526.39,354.82 L526.64,354.81 L526.88,354.80 L527.12,354.79 L527.37,354.78 L527.61,354.77 L527.85,354.76 L528.10,354.75 L528.34,354.74 L528.59,354.74 L528.83,354.73 L529.07,354.72 L529.32,354.71 L529.56,354.70 L529.80,354.69 L530.05,354.68 L530.29,354.67 L530.54,354.66 L530.78,354.65 L531.02,354.65 L531.27,354.64 L531.51,354.63 L531.75,354.62 L532.00,354.61 L532.24,354.60 L532.49,354.59 L532.73,354.58 L532.97,354.57 L533.22,354.56 L533.46,354.55 L533.70,354.54 L533.95,354.53 L534.19,354.53 L534.44,354.52 L534.68,354.51 L534.92,354.50 L535.17,354.49 L535.41,354.48 L535.66,354.47 L535.90,354.46 L536.14,354.45 L536.39,354.44 L536.63,354.43 L536.87,354.42 L537.12,354.41 L537.36,354.40 L537.61,354.39 L537.85,354.38 L538.09,354.37 L538.34,354.36 L538.58,354.35 L538.82,354.34 L539.07,354.33 L539.31,354.32 L539.56,354.31 L539.80,354.30 L540.04,354.29 L540.29,354.28 L540.53,354.27 L540.77,354.26 L541.02,354.25 L541.26,354.24 L541.51,354.23 L541.75,354.22 L541.99,354.21 L542.24,354.20 L542.48,354.19 L542.72,354.18 L542.97,354.17 L543.21,354.16 L543.46,354.15 L543.70,354.14 L543.94,354.13 L544.19,354.12 L544.43,354.11 L544.68,354.10 L544.92,354.09 L545.16,354.08 L545.41,354.06 L545.65,354.05 L545.89,354.04 L546.14,354.03 L546.38,354.02 L546.63,354.01 L546.87,354.00 L547.11,353.99 L547.36,353.98 L547.60,353.97 L547.84,353.96 L548.09,353.95 L548.33,353.93 L548.58,353.92 L548.82,353.91 L549.06,353.90 L549.31,353.89 L549.55,353.88 L549.79,353.87 L550.04,353.86 L550.28,353.85 L550.53,353.83 L550.77,353.82 L551.01,353.81 L551.26,353.80 L551.50,353.79 L551.75,353.78 L551.99,353.77 L552.23,353.76 L552.48,353.74 L552.72,353.73 L552.96,353.72 L553.21,353.71 L553.45,353.70 L553.70,353.69 L553.94,353.67 L554.18,353.66 L554.43,353.65 L554.67,353.64 L554.91,353.63 L555.16,353.62 L555.40,353.60 L555.65,353.59 L555.89,353.58 L556.13,353.57 L556.38,353.56 L556.62,353.54 L556.86,353.53 L557.11,353.52 L557.35,353.51 L557.60,353.49 L557.84,353.48 L558.08,353.47 L558.33,353.46 L558.57,353.45 L558.81,353.43 L559.06,353.42 L559.30,353.41 L559.55,353.40 L559.79,353.38 L560.03,353.37 L560.28,353.36 L560.52,353.35 L560.77,353.33 L561.01,353.32 L561.25,353.31 L561.50,353.29 L561.74,353.28 L561.98,353.27 L562.23,353.26 L562.47,353.24 L562.72,353.23 L562.96,353.22 L563.20,353.20 L563.45,353.19 L563.69,353.18 L563.93,353.16 L564.18,353.15 L564.42,353.14 L564.67,353.13 L564.91,353.11 L565.15,353.10 L565.40,353.08 L565.64,353.07 L565.88,353.06 L566.13,353.04 L566.37,353.03 L566.62,353.02 L566.86,353.00 L567.10,352.99 L567.35,352.98 L567.59,352.96 L567.83,352.95 L568.08,352.93 L568.32,352.92 L568.57,352.91 L568.81,352.89 L569.05,352.88 L569.30,352.86 L569.54,352.85 L569.79,352.84 L570.03,352.82 L570.27,352.81 L570.52,352.79 L570.76,352.78 L571.00,352.77 L571.25,352.75 L571.49,352.74 L571.74,352.72 L571.98,352.71 L572.22,352.69 L572.47,352.68 L572.71,352.66 L572.95,352.65 L573.20,352.63 L573.44,352.62 L573.69,352.60 L573.93,352.59 L574.17,352.57 L574.42,352.56 L574.66,352.54 L574.90,352.53 L575.15,352.51 L575.39,352.50 L575.64,352.48 L575.88,352.47 L576.12,352.45 L576.37,352.44 L576.61,352.42 L576.86,352.41 L577.10,352.39 L577.34,352.38 L577.59,352.36 L577.83,352.34 L578.07,352.33 L578.32,352.31 L578.56,352.30 L578.81,352.28 L579.05,352.26 L579.29,352.25 L579.54,352.23 L579.78,352.22 L580.02,352.20 L580.27,352.18 L580.51,352.17 L580.76,352.15 L581.00,352.13 L581.24,352.12 L581.49,352.10 L581.73,352.09 L581.97,352.07 L582.22,352.05 L582.46,352.04 L582.71,352.02 L582.95,352.00 L583.19,351.98 L583.44,351.97 L583.68,351.95 L583.92,351.93 L584.17,351.92 L584.41,351.90 L584.66,351.88 L584.90,351.86 L585.14,351.85 L585.39,351.83 L585.63,351.81 L585.88,351.79 L586.12,351.78 L586.36,351.76 L586.61,351.74 L586.85,351.72 L587.09,351.71 L587.34,351.69 L587.58,351.67 L587.83,351.65 L588.07,351.63 L588.31,351.62 L588.56,351.60 L588.80,351.58 L589.04,351.56 L589.29,351.54 L589.53,351.52 L589.78,351.51 L590.02,351.49 L590.26,351.47 L590.51,351.45 L590.75,351.43 L590.99,351.41 L591.24,351.39 L591.48,351.37 L591.73,351.35 L591.97,351.34 L592.21,351.32 L592.46,351.30 L592.70,351.28 L592.94,351.26 L593.19,351.24 L593.43,351.22 L593.68,351.20 L593.92,351.18 L594.16,351.16 L594.41,351.14 L594.65,351.12 L594.90,351.10 L595.14,351.08 L595.38,351.06 L595.63,351.04 L595.87,351.02 L596.11,351.00 L596.36,350.98 L596.60,350.96 L596.85,350.94 L597.09,350.92 L597.33,350.90 L597.58,350.87 L597.82,350.85 L598.06,350.83 L598.31,350.81 L598.55,350.79 L598.80,350.77 L599.04,350.75 L599.28,350.73 L599.53,350.71 L599.77,350.68 L600.01,350.66 L600.26,350.64 L600.50,350.62 L600.75,350.60 L600.99,350.57 L601.23,350.55 L601.48,350.53 L601.72,350.51 L601.97,350.49 L602.21,350.46 L602.45,350.44 L602.70,350.42 L602.94,350.40 L603.18,350.37 L603.43,350.35 L603.67,350.33 L603.92,350.30 L604.16,350.28 L604.40,350.26 L604.65,350.23 L604.89,350.21 L605.13,350.19 L605.38,350.16 L605.62,350.14 L605.87,350.12 L606.11,350.09 L606.35,350.07 L606.60,350.04 L606.84,350.02 L607.08,350.00 L607.33,349.97 L607.57,349.95 L607.82,349.92 L608.06,349.90 L608.30,349.87 L608.55,349.85 L608.79,349.82 L609.03,349.80 L609.28,349.77 L609.52,349.75 L609.77,349.72 L610.01,349.70 L610.25,349.67 L610.50,349.65 L610.74,349.62 L610.99,349.59 L611.23,349.57 L611.47,349.54 L611.72,349.52 L611.96,349.49 L612.20,349.46 L612.45,349.44 L612.69,349.41 L612.94,349.38 L613.18,349.36 L613.42,349.33 L613.67,349.30 L613.91,349.27 L614.15,349.25 L614.40,349.22 L614.64,349.19 L614.89,349.16 L615.13,349.14 L615.37,349.11 L615.62,349.08 L615.86,349.05 L616.10,349.02 L616.35,348.99 L616.59,348.97 L616.84,348.94 L617.08,348.91 L617.32,348.88 L617.57,348.85 L617.81,348.82 L618.05,348.79 L618.30,348.76 L618.54,348.73 L618.79,348.70 L619.03,348.67 L619.27,348.64 L619.52,348.61 L619.76,348.58 L620.01,348.55 L620.25,348.52 L620.49,348.49 L620.74,348.46 L620.98,348.43 L621.22,348.40 L621.47,348.37 L621.71,348.33 L621.96,348.30 L622.20,348.27 L622.44,348.24 L622.69,348.21 L622.93,348.18 L623.17,348.14 L623.42,348.11 L623.66,348.08 L623.91,348.04 L624.15,348.01 L624.39,347.98 L624.64,347.95 L624.88,347.91 L625.12,347.88 L625.37,347.84 L625.61,347.81 L625.86,347.78 L626.10,347.74 L626.34,347.71 L626.59,347.67 L626.83,347.64 L627.08,347.60 L627.32,347.57 L627.56,347.53 L627.81,347.50 L628.05,347.46 L628.29,347.43 L628.54,347.39 L628.78,347.36 L629.03,347.32 L629.27,347.28 L629.51,347.25 L629.76,347.21 L630.00,347.17 L630.24,347.13 L630.49,347.10 L630.73,347.06 L630.98,347.02 L631.22,346.98 L631.46,346.95 L631.71,346.91 L631.95,346.87 L632.19,346.83 L632.44,346.79 L632.68,346.75 L632.93,346.71 L633.17,346.67 L633.41,346.63 L633.66,346.59 L633.90,346.55 L634.14,346.51 L634.39,346.47 L634.63,346.43 L634.88,346.39 L635.12,346.35 L635.36,346.31 L635.61,346.27 L635.85,346.22 L636.10,346.18 L636.34,346.14 L636.58,346.10 L636.83,346.05 L637.07,346.01 L637.31,345.97 L637.56,345.93 L637.80,345.88 L638.05,345.84 L638.29,345.79 L638.53,345.75 L638.78,345.70 L639.02,345.66 L639.26,345.61 L639.51,345.57 L639.75,345.52 L640.00,345.48 L640.24,345.43 L640.48,345.38 L640.73,345.34 L640.97,345.29 L641.21,345.24 L641.46,345.20 L641.70,345.15 L641.95,345.10 L642.19,345.05 L642.43,345.00 L642.68,344.95 L642.92,344.91 L643.16,344.86 L643.41,344.81 L643.65,344.76 L643.90,344.71 L644.14,344.66 L644.38,344.60 L644.63,344.55 L644.87,344.50 L645.12,344.45 L645.36,344.40 L645.60,344.35 L645.85,344.29 L646.09,344.24 L646.33,344.19 L646.58,344.13 L646.82,344.08 L647.07,344.02 L647.31,343.97 L647.55,343.91 L647.80,343.86 L648.04,343.80 L648.28,343.75 L648.53,343.69 L648.77,343.63 L649.02,343.58 L649.26,343.52 L649.50,343.46 L649.75,343.40 L649.99,343.35 L650.23,343.29 L650.48,343.23 L650.72,343.17 L650.97,343.11 L651.21,343.05 L651.45,342.99 L651.70,342.93 L651.94,342.86 L652.19,342.80 L652.43,342.74 L652.67,342.68 L652.92,342.61 L653.16,342.55 L653.40,342.49 L653.65,342.42 L653.89,342.36 L654.14,342.29 L654.38,342.23 L654.62,342.16 L654.87,342.09 L655.11,342.03 L655.35,341.96 L655.60,341.89 L655.84,341.82 L656.09,341.75 L656.33,341.68 L656.57,341.61 L656.82,341.54 L657.06,341.47 L657.30,341.40 L657.55,341.33 L657.79,341.26 L658.04,341.19 L658.28,341.11 L658.52,341.04 L658.77,340.96 L659.01,340.89 L659.25,340.81 L659.50,340.74 L659.74,340.66 L659.99,340.58 L660.23,340.51 L660.47,340.43 L660.72,340.35 L660.96,340.27 L661.21,340.19 L661.45,340.11 L661.69,340.03 L661.94,339.95 L662.18,339.87 L662.42,339.78 L662.67,339.70 L662.91,339.61 L663.16,339.53 L663.40,339.44 L663.64,339.36 L663.89,339.27 L664.13,339.18 L664.37,339.10 L664.62,339.01 L664.86,338.92 L665.11,338.83 L665.35,338.74 L665.59,338.65 L665.84,338.55 L666.08,338.46 L666.32,338.37 L666.57,338.27 L666.81,338.18 L667.06,338.08 L667.30,337.98 L667.54,337.89 L667.79,337.79 L668.03,337.69 L668.27,337.59 L668.52,337.49 L668.76,337.39 L669.01,337.28 L669.25,337.18 L669.49,337.08 L669.74,336.97 L669.98,336.87 L670.23,336.76 L670.47,336.65 L670.71,336.54 L670.96,336.43 L671.20,336.32 L671.44,336.21 L671.69,336.10 L671.93,335.98 L672.18,335.87 L672.42,335.75 L672.66,335.64 L672.91,335.52 L673.15,335.40 L673.39,335.28 L673.64,335.16 L673.88,335.04 L674.13,334.92 L674.37,334.79 L674.61,334.67 L674.86,334.54 L675.10,334.41 L675.34,334.28 L675.59,334.15 L675.83,334.02 L676.08,333.89 L676.32,333.76 L676.56,333.62 L676.81,333.49 L677.05,333.35 L677.30,333.21 L677.54,333.07 L677.78,332.93 L678.03,332.79 L678.27,332.64 L678.51,332.50 L678.76,332.35 L679.00,332.20 L679.25,332.05 L679.49,331.90 L679.73,331.74 L679.98,331.59 L680.22,331.43 L680.46,331.28 L680.71,331.12 L680.95,330.95 L681.20,330.79 L681.44,330.63 L681.68,330.46 L681.93,330.29 L682.17,330.12 L682.41,329.95 L682.66,329.78 L682.90,329.60 L683.15,329.42 L683.39,329.24 L683.63,329.06 L683.88,328.88 L684.12,328.69 L684.36,328.51 L684.61,328.32 L684.85,328.13 L685.10,327.93 L685.34,327.74 L685.58,327.54 L685.83,327.34 L686.07,327.13 L686.32,326.93 L686.56,326.72 L686.80,326.51 L687.05,326.30 L687.29,326.08 L687.53,325.86 L687.78,325.64 L688.02,325.42 L688.27,325.19 L688.51,324.96 L688.75,324.73 L689.00,324.50 L689.24,324.26 L689.48,324.02 L689.73,323.78 L689.97,323.53 L690.22,323.28 L690.46,323.03 L690.70,322.77 L690.95,322.51 L691.19,322.25 L691.43,321.98 L691.68,321.71 L691.92,321.43 L692.17,321.16 L692.41,320.88 L692.65,320.59 L692.90,320.30 L693.14,320.01 L693.38,319.71 L693.63,319.41 L693.87,319.10 L694.12,318.79 L694.36,318.48 L694.60,318.16 L694.85,317.83 L695.09,317.50 L695.34,317.17 L695.58,316.83 L695.82,316.48 L696.07,316.14 L696.31,315.78 L696.55,315.42 L696.80,315.05 L697.04,314.68 L697.29,314.30 L697.53,313.92 L697.77,313.53 L698.02,313.14 L698.26,312.73 L698.50,312.32 L698.75,311.91 L698.99,311.49 L699.24,311.06 L699.48,310.62 L699.72,310.17 L699.97,309.72 L700.21,309.26 L700.45,308.79 L700.70,308.32 L700.94,307.83 L701.19,307.34 L701.43,306.84 L701.67,306.32 L701.92,305.80 L702.16,305.27 L702.41,304.73 L702.65,304.18 L702.89,303.62 L703.14,303.04 L703.38,302.46 L703.62,301.86 L703.87,301.26 L704.11,300.64 L704.36,300.01 L704.60,299.36 L704.84,298.70 L705.09,298.03 L705.33,297.34 L705.57,296.64 L705.82,295.93 L706.06,295.20 L706.31,294.45 L706.55,293.68 L706.79,292.90 L707.04,292.11 L707.28,291.29 L707.52,290.45 L707.77,289.60 L708.01,288.72 L708.26,287.82 L708.50,286.91 L708.74,285.97 L708.99,285.00 L709.23,284.01 L709.47,283.00 L709.72,281.96 L709.96,280.90 L710.21,279.80 L710.45,278.68 L710.69,277.53 L710.94,276.34 L711.18,275.13 L711.43,273.88 L711.67,272.59 L711.91,271.27 L712.16,269.91 L712.40,268.51 L712.64,267.07 L712.89,265.58 L713.13,264.05 L713.38,262.47 L713.62,260.85 L713.86,259.17 L714.11,257.44 L714.35,255.65 L714.59,253.81 L714.84,251.90 L715.08,249.93 L715.33,247.89 L715.57,245.78 L715.81,243.59 L716.06,241.33 L716.30,238.99 L716.54,236.56 L716.79,234.04 L717.03,231.42 L717.28,228.71 L717.52,225.89 L717.76,222.96 L718.01,219.92 L718.25,216.75 L718.49,213.45 L718.74,210.03 L718.98,206.46 L719.23,202.74 L719.47,198.86 L719.71,194.82 L719.96,190.61 L720.20,186.22 L720.45,181.64 L720.69,176.87 L720.93,171.89 L721.18,166.69 L721.42,161.28 L721.66,155.65 L721.91,149.78 L722.15,143.68 L722.40,137.35 L722.64,130.79 L722.88,124.00 L723.13,116.99 L723.37,109.79 L723.61,102.41 L723.86,94.89 L724.10,87.27 L724.35,79.60 L724.59,71.95 L724.83,64.40 L725.08,57.04 L725.32,49.97 L725.56,43.32 L725.81,37.20 L726.05,31.74 L726.30,27.08 L726.54,23.33 L726.78,20.80 L727.03,20.80 L727.27,20.80 L727.52,20.80 L727.76,20.86 L728.00,23.72 L728.25,27.58 L728.49,32.34 L728.73,37.87 L728.98,44.06 L729.22,50.77 L729.47,57.88 L729.71,65.27 L729.95,72.84 L730.20,80.49 L730.44,88.16 L730.68,95.77 L730.93,103.28 L731.17,110.64 L731.42,117.82 L731.66,124.80 L731.90,131.56 L732.15,138.10 L732.39,144.40 L732.63,150.48 L732.88,156.31 L733.12,161.92 L733.37,167.31 L733.61,172.47 L733.85,177.43 L734.10,182.18 L734.34,186.74 L734.58,191.11 L734.83,195.30 L735.07,199.32 L735.32,203.18 L735.56,206.88 L735.80,210.43 L736.05,213.84 L736.29,217.12 L736.54,220.27 L736.78,223.31 L737.02,226.22 L737.27,229.03 L737.51,231.73 L737.75,234.33 L738.00,236.84 L738.24,239.26 L738.49,241.60 L738.73,243.85 L738.97,246.03 L739.22,248.13 L739.46,250.16 L739.70,252.12 L739.95,254.02 L740.19,255.86 L740.44,257.64 L740.68,259.37 L740.92,261.04 L741.17,262.66 L741.41,264.23 L741.65,265.76 L741.90,267.24 L742.14,268.67 L742.39,270.07 L742.63,271.42 L742.87,272.74 L743.12,274.02 L743.36,275.27 L743.60,276.48 L743.85,277.66 L744.09,278.81 L744.34,279.93 L744.58,281.02 L744.82,282.08 L745.07,283.12 L745.31,284.13 L745.56,285.11 L745.80,286.08 L746.04,287.01 L746.29,287.93 L746.53,288.82 L746.77,289.70 L747.02,290.55 L747.26,291.38 L747.51,292.20 L747.75,293.00 L747.99,293.77 L748.24,294.54 L748.48,295.28 L748.72,296.01 L748.97,296.73 L749.21,297.42 L749.46,298.11 L749.70,298.78 L749.94,299.44 L750.19,300.08 L750.43,300.71 L750.67,301.33 L750.92,301.93 L751.16,302.53 L751.41,303.11 L751.65,303.68 L751.89,304.24 L752.14,304.79 L752.38,305.33 L752.63,305.86 L752.87,306.38 L753.11,306.89 L753.36,307.40 L753.60,307.89 L753.84,308.37 L754.09,308.85 L754.33,309.32 L754.58,309.77 L754.82,310.23 L755.06,310.67 L755.31,311.11 L755.55,311.54 L755.79,311.96 L756.04,312.37 L756.28,312.78 L756.53,313.18 L756.77,313.58 L757.01,313.97 L757.26,314.35 L757.50,314.73 L757.74,315.10 L757.99,315.46 L758.23,315.82 L758.48,316.18 L758.72,316.52 L758.96,316.87 L759.21,317.21 L759.45,317.54 L759.69,317.87 L759.94,318.19 L760.18,318.51 L760.43,318.83 L760.67,319.14 L760.91,319.44 L761.16,319.74 L761.40,320.04 L761.65,320.33 L761.89,320.62 L762.13,320.91 L762.38,321.19 L762.62,321.47 L762.86,321.74 L763.11,322.01 L763.35,322.28 L763.60,322.54 L763.84,322.80 L764.08,323.06 L764.33,323.31 L764.57,323.56 L764.81,323.80 L765.06,324.05 L765.30,324.29 L765.55,324.53 L765.79,324.76 L766.03,324.99 L766.28,325.22 L766.52,325.45 L766.76,325.67 L767.01,325.89 L767.25,326.11 L767.50,326.32 L767.74,326.53 L767.98,326.74 L768.23,326.95 L768.47,327.16 L768.71,327.36 L768.96,327.56 L769.20,327.76 L769.45,327.95 L769.69,328.15 L769.93,328.34 L770.18,328.53 L770.42,328.72 L770.67,328.90 L770.91,329.08 L771.15,329.27 L771.40,329.44 L771.64,329.62 L771.88,329.80 L772.13,329.97 L772.37,330.14 L772.62,330.31 L772.86,330.48 L773.10,330.65 L773.35,330.81 L773.59,330.97 L773.83,331.13 L774.08,331.29 L774.32,331.45 L774.57,331.61 L774.81,331.76 L775.05,331.92 L775.30,332.07 L775.54,332.22 L775.78,332.37 L776.03,332.51 L776.27,332.66 L776.52,332.80 L776.76,332.95 L777.00,333.09 L777.25,333.23 L777.49,333.37 L777.74,333.50 L777.98,333.64 L778.22,333.77 L778.47,333.91 L778.71,334.04 L778.95,334.17 L779.20,334.30 L779.44,334.43 L779.69,334.56 L779.93,334.68 L780.17,334.81 L780.42,334.93 L780.66,335.05 L780.90,335.18 L781.15,335.30 L781.39,335.42 L781.64,335.53 L781.88,335.65 L782.12,335.77 L782.37,335.88 L782.61,336.00 L782.85,336.11 L783.10,336.22 L783.34,336.33 L783.59,336.45 L783.83,336.55 L784.07,336.66 L784.32,336.77 L784.56,336.88 L784.80,336.98 L785.05,337.09 L785.29,337.19 L785.54,337.30 L785.78,337.40 L786.02,337.50 L786.27,337.60 L786.51,337.70 L786.76,337.80 L787.00,337.90 L787.24,338.00 L787.49,338.09 L787.73,338.19 L787.97,338.28 L788.22,338.38 L788.46,338.47 L788.71,338.56 L788.95,338.66 L789.19,338.75 L789.44,338.84 L789.68,338.93 L789.92,339.02 L790.17,339.11 L790.41,339.19 L790.66,339.28 L790.90,339.37 L791.14,339.45 L791.39,339.54 L791.63,339.62 L791.87,339.71 L792.12,339.79 L792.36,339.87 L792.61,339.96 L792.85,340.04 L793.09,340.12 L793.34,340.20 L793.58,340.28 L793.82,340.36 L794.07,340.44 L794.31,340.52 L794.56,340.59 L794.80,340.67 L795.04,340.75 L795.29,340.82 L795.53,340.90 L795.78,340.97 L796.02,341.05 L796.26,341.12 L796.51,341.19 L796.75,341.27 L796.99,341.34 L797.24,341.41 L797.48,341.48 L797.73,341.55 L797.97,341.62 L798.21,341.69 L798.46,341.76 L798.70,341.83 L798.94,341.90 L799.19,341.97 L799.43,342.03 L799.68,342.10 L799.92,342.17 L800.16,342.23 L800.41,342.30 L800.65,342.36 L800.89,342.43 L801.14,342.49 L801.38,342.56 L801.63,342.62 L801.87,342.68 L802.11,342.75 L802.36,342.81 L802.60,342.87 L802.85,342.93 L803.09,342.99 L803.33,343.05 L803.58,343.11 L803.82,343.17 L804.06,343.23 L804.31,343.29 L804.55,343.35 L804.80,343.41 L805.04,343.47 L805.28,343.53 L805.53,343.58 L805.77,343.64 L806.01,343.70 L806.26,343.75 L806.50,343.81 L806.75,343.87 L806.99,343.92 L807.23,343.98 L807.48,344.03 L807.72,344.08 L807.96,344.14 L808.21,344.19 L808.45,344.25 L808.70,344.30 L808.94,344.35 L809.18,344.40 L809.43,344.46 L809.67,344.51 L809.91,344.56 L810.16,344.61 L810.40,344.66 L810.65,344.71 L810.89,344.76 L811.13,344.81 L811.38,344.86 L811.62,344.91 L811.87,344.96 L812.11,345.01 L812.35,345.06 L812.60,345.11 L812.84,345.15 L813.08,345.20 L813.33,345.25 L813.57,345.30 L813.82,345.34 L814.06,345.39 L814.30,345.44 L814.55,345.48 L814.79,345.53 L815.03,345.57 L815.28,345.62 L815.52,345.66 L815.77,345.71 L816.01,345.75 L816.25,345.80 L816.50,345.84 L816.74,345.89 L816.98,345.93 L817.23,345.97 L817.47,346.02 L817.72,346.06 L817.96,346.10 L818.20,346.15 L818.45,346.19 L818.69,346.23 L818.93,346.27 L819.18,346.31 L819.42,346.35 L819.67,346.40 L819.91,346.44 L820.15,346.48 L820.40,346.52 L820.64,346.56 L820.89,346.60 L821.13,346.64 L821.37,346.68 L821.62,346.72 L821.86,346.76 L822.10,346.80 L822.35,346.83 L822.59,346.87 L822.84,346.91 L823.08,346.95 L823.32,346.99 L823.57,347.03 L823.81,347.06 L824.05,347.10 L824.30,347.14 L824.54,347.18 L824.79,347.21 L825.03,347.25 L825.27,347.29 L825.52,347.32 L825.76,347.36 L826.00,347.40 L826.25,347.43 L826.49,347.47 L826.74,347.50 L826.98,347.54 L827.22,347.57 L827.47,347.61 L827.71,347.64 L827.96,347.68 L828.20,347.71 L828.44,347.75 L828.69,347.78 L828.93,347.81 L829.17,347.85 L829.42,347.88 L829.66,347.92 L829.91,347.95 L830.15,347.98 L830.39,348.02 L830.64,348.05 L830.88,348.08 L831.12,348.11 L831.37,348.15 L831.61,348.18 L831.86,348.21 L832.10,348.24 L832.34,348.27 L832.59,348.31 L832.83,348.34 L833.07,348.37 L833.32,348.40 L833.56,348.43 L833.81,348.46 L834.05,348.49 L834.29,348.52 L834.54,348.56 L834.78,348.59 L835.02,348.62 L835.27,348.65 L835.51,348.68 L835.76,348.71 L836.00,348.74" fill="none" stroke="#ff1e1e" stroke-width="2.6" stroke-dasharray="2.6 2.6" stroke-linejoin="round"/>
<text x="539.93" y="384.4" text-anchor="middle" class="itk">2.5</text>
<text x="589.36" y="384.4" text-anchor="middle" class="itk">3</text>
<text x="638.79" y="384.4" text-anchor="middle" class="itk">3.5</text>
<text x="688.21" y="384.4" text-anchor="middle" class="itk">4</text>
<text x="737.64" y="384.4" text-anchor="middle" class="itk">4.5</text>
<text x="787.07" y="384.4" text-anchor="middle" class="itk">5</text>
<text x="836.50" y="384.4" text-anchor="middle" class="itk">5.5</text>
<text x="847.3" y="330.60" text-anchor="end" class="iytk">5</text>
<text x="847.3" y="296.10" text-anchor="end" class="iytk">10</text>
<text x="847.3" y="261.60" text-anchor="end" class="iytk">15</text>
<text x="847.3" y="227.10" text-anchor="end" class="iytk">20</text>
<text x="847.3" y="192.60" text-anchor="end" class="iytk">25</text>
<text x="847.3" y="158.10" text-anchor="end" class="iytk">30</text>
<text x="847.3" y="123.60" text-anchor="end" class="iytk">35</text>
<text x="847.3" y="89.10" text-anchor="end" class="iytk">40</text>
<text x="847.3" y="54.60" text-anchor="end" class="iytk">45</text>
<text x="599.6" y="407.2" class="ilab">Normalized <tspan class="fi" font-size="19.5" x="705.4" y="408.1">f</tspan><tspan class="bi" font-size="15" x="714" y="416.8">4</tspan></text>
<text transform="translate(808.8,277) rotate(-90)" class="iylab"><tspan class="chi" font-size="26" x="0" y="0">χ</tspan><tspan class="isup" x="18.3" y="-14">(3)</tspan><tspan y="0"> (x 10</tspan><tspan class="isup" y="-14">-8</tspan><tspan y="0"> esu)</tspan></text>
<rect x="472.8" y="15.4" width="126.4" height="132.8" fill="#fff" stroke="#c9c9c9" stroke-width="1.5"/>
<path d="M476.4,38.3 H490.6 M492,38.3 H496.6" stroke="#111" stroke-width="3" fill="none"/>
<path d="M476.4,82.0 H496.8" stroke="#2020f0" stroke-width="3.1" fill="none"/>
<path d="M476.6,125.0 H497" stroke="#ff3030" stroke-width="2.8" stroke-dasharray="3 2.8" fill="none"/>
<text class="ileg"><tspan class="fi" font-size="26.5" x="510.3" y="43.0">f</tspan><tspan class="bi" font-size="21" x="522.9" y="55.0">1</tspan><tspan x="532" y="41.0"> </tspan><tspan x="538.4" y="41.0">= </tspan><tspan x="562.2" y="41.0">2.3</tspan></text>
<text class="ileg"><tspan class="fi" font-size="26.5" x="510.3" y="86.0">f</tspan><tspan class="bi" font-size="21" x="522.9" y="98.0">1</tspan><tspan x="532" y="84.0"> </tspan><tspan x="538.4" y="84.0">= </tspan><tspan x="562.2" y="84.0">2.6</tspan></text>
<text class="ileg"><tspan class="fi" font-size="26.5" x="510.3" y="129.0">f</tspan><tspan class="bi" font-size="21" x="522.9" y="141.0">1</tspan><tspan x="532" y="127.0"> </tspan><tspan x="538.4" y="127.0">= </tspan><tspan x="562.2" y="127.0">2.9</tspan></text>
</g>
<g id="plot-b">
<path d="M996.50,17.20 V754.80 M1115.05,17.20 V754.80 M1233.60,17.20 V754.80 M1352.15,17.20 V754.80 M1470.70,17.20 V754.80 M1589.25,17.20 V754.80 M1707.80,17.20 V754.80 M996.50,754.80 H1707.80 M996.50,649.43 H1707.80 M996.50,544.06 H1707.80 M996.50,438.69 H1707.80 M996.50,333.31 H1707.80 M996.50,227.94 H1707.80 M996.50,122.57 H1707.80 M996.50,17.20 H1707.80" fill="none" stroke="#f1f1f1" stroke-width="1.3"/>
<path d="M996.50,17.20 V754.80 H1707.80 M996.50,754.80 v-7.5 M1115.05,754.80 v-7.5 M1233.60,754.80 v-7.5 M1352.15,754.80 v-7.5 M1470.70,754.80 v-7.5 M1589.25,754.80 v-7.5 M1707.80,754.80 v-7.5 M996.50,754.80 h7.5 M996.50,649.43 h7.5 M996.50,544.06 h7.5 M996.50,438.69 h7.5 M996.50,333.31 h7.5 M996.50,227.94 h7.5 M996.50,122.57 h7.5 M996.50,17.20 h7.5" fill="none" stroke="#b2b2b2" stroke-width="2"/>
<path d="M996.50,754.80 L997.65,754.86 L998.80,754.88 L999.95,754.85 L1001.10,754.77 L1002.25,754.64 L1003.40,754.47 L1004.55,754.26 L1005.70,754.01 L1006.85,753.71 L1008.00,753.38 L1009.15,753.01 L1010.30,752.61 L1011.45,752.17 L1012.60,751.70 L1013.75,751.20 L1014.90,750.67 L1016.05,750.10 L1017.20,749.51 L1018.35,748.90 L1019.50,748.26 L1020.65,747.59 L1021.80,746.91 L1022.95,746.20 L1024.10,745.47 L1025.25,744.72 L1026.40,743.95 L1027.55,743.17 L1028.69,742.37 L1029.84,741.56 L1030.99,740.73 L1032.14,739.89 L1033.29,739.04 L1034.44,738.17 L1035.59,737.30 L1036.74,736.42 L1037.89,735.53 L1039.04,734.63 L1040.19,733.73 L1041.34,732.82 L1042.49,731.91 L1043.64,730.99 L1044.79,730.07 L1045.94,729.15 L1047.09,728.23 L1048.24,727.30 L1049.39,726.38 L1050.54,725.46 L1051.69,724.54 L1052.84,723.62 L1053.99,722.70 L1055.14,721.79 L1056.29,720.88 L1057.44,719.98 L1058.59,719.08 L1059.74,718.19 L1060.89,717.30 L1062.04,716.42 L1063.19,715.55 L1064.34,714.68 L1065.49,713.83 L1066.64,712.98 L1067.79,712.14 L1068.94,711.31 L1070.09,710.49 L1071.24,709.68 L1072.39,708.88 L1073.54,708.09 L1074.69,707.31 L1075.84,706.55 L1076.99,705.79 L1078.14,705.05 L1079.29,704.32 L1080.44,703.60 L1081.59,702.89 L1082.74,702.20 L1083.89,701.52 L1085.04,700.85 L1086.19,700.19 L1087.34,699.55 L1088.49,698.92 L1089.64,698.30 L1090.78,697.69 L1091.93,697.10 L1093.08,696.52 L1094.23,695.96 L1095.38,695.40 L1096.53,694.86 L1097.68,694.34 L1098.83,693.82 L1099.98,693.32 L1101.13,692.83 L1102.28,692.35 L1103.43,691.89 L1104.58,691.44 L1105.73,691.00 L1106.88,690.57 L1108.03,690.16 L1109.18,689.76 L1110.33,689.37 L1111.48,689.00 L1112.63,688.63 L1113.78,688.28 L1114.93,687.94 L1116.08,687.62 L1117.23,687.30 L1118.38,687.00 L1119.53,686.71 L1120.68,686.43 L1121.83,686.17 L1122.98,685.91 L1124.13,685.67 L1125.28,685.44 L1126.43,685.22 L1127.58,685.01 L1128.73,684.82 L1129.88,684.63 L1131.03,684.46 L1132.18,684.30 L1133.33,684.15 L1134.48,684.01 L1135.63,683.88 L1136.78,683.76 L1137.93,683.65 L1139.08,683.56 L1140.23,683.47 L1141.38,683.40 L1142.53,683.33 L1143.68,683.28 L1144.83,683.24 L1145.98,683.20 L1147.13,683.18 L1148.28,683.16 L1149.43,683.16 L1150.58,683.17 L1151.73,683.18 L1152.87,683.21 L1154.02,683.24 L1155.17,683.29 L1156.32,683.34 L1157.47,683.40 L1158.62,683.47 L1159.77,683.55 L1160.92,683.64 L1162.07,683.73 L1163.22,683.84 L1164.37,683.95 L1165.52,684.07 L1166.67,684.20 L1167.82,684.33 L1168.97,684.48 L1170.12,684.63 L1171.27,684.79 L1172.42,684.95 L1173.57,685.13 L1174.72,685.31 L1175.87,685.49 L1177.02,685.68 L1178.17,685.88 L1179.32,686.09 L1180.47,686.30 L1181.62,686.52 L1182.77,686.74 L1183.92,686.97 L1185.07,687.20 L1186.22,687.44 L1187.37,687.68 L1188.52,687.93 L1189.67,688.18 L1190.82,688.44 L1191.97,688.70 L1193.12,688.96 L1194.27,689.23 L1195.42,689.51 L1196.57,689.78 L1197.72,690.06 L1198.87,690.34 L1200.02,690.63 L1201.17,690.92 L1202.32,691.21 L1203.47,691.50 L1204.62,691.79 L1205.77,692.09 L1206.92,692.39 L1208.07,692.69 L1209.22,692.99 L1210.37,693.29 L1211.52,693.59 L1212.67,693.89 L1213.82,694.19 L1214.97,694.49 L1216.11,694.79 L1217.26,695.10 L1218.41,695.40 L1219.56,695.69 L1220.71,695.99 L1221.86,696.29 L1223.01,696.58 L1224.16,696.87 L1225.31,697.16 L1226.46,697.44 L1227.61,697.72 L1228.76,698.00 L1229.91,698.27 L1231.06,698.54 L1232.21,698.81 L1233.36,699.07 L1234.51,699.32 L1235.66,699.57 L1236.81,699.81 L1237.96,700.05 L1239.11,700.28 L1240.26,700.50 L1241.41,700.72 L1242.56,700.92 L1243.71,701.12 L1244.86,701.31 L1246.01,701.49 L1247.16,701.67 L1248.31,701.83 L1249.46,701.98 L1250.61,702.12 L1251.76,702.25 L1252.91,702.37 L1254.06,702.47 L1255.21,702.57 L1256.36,702.65 L1257.51,702.71 L1258.66,702.77 L1259.81,702.81 L1260.96,702.83 L1262.11,702.84 L1263.26,702.83 L1264.41,702.81 L1265.56,702.77 L1266.71,702.72 L1267.86,702.64 L1269.01,702.55 L1270.16,702.44 L1271.31,702.31 L1272.46,702.16 L1273.61,701.99 L1274.76,701.80 L1275.91,701.59 L1277.06,701.36 L1278.20,701.10 L1279.35,700.83 L1280.50,700.53 L1281.65,700.20 L1282.80,699.85 L1283.95,699.48 L1285.10,699.08 L1286.25,698.65 L1287.40,698.20 L1288.55,697.72 L1289.70,697.21 L1290.85,696.67 L1292.00,696.11 L1293.15,695.51 L1294.30,694.89 L1295.45,694.23 L1296.60,693.54 L1297.75,692.82 L1298.90,692.07 L1300.05,691.28 L1301.20,690.46 L1302.35,689.60 L1303.50,688.71 L1304.65,687.78 L1305.80,686.82 L1306.95,685.82 L1308.10,684.78 L1309.25,683.70 L1310.40,682.58 L1311.55,681.42 L1312.70,680.23 L1313.85,678.99 L1315.00,677.70 L1316.15,676.38 L1317.30,675.01 L1318.45,673.60 L1319.60,672.14 L1320.75,670.63 L1321.90,669.08 L1323.05,667.47 L1324.20,665.81 L1325.35,664.10 L1326.50,662.33 L1327.65,660.49 L1328.80,658.59 L1329.95,656.63 L1331.10,654.58 L1332.25,652.47 L1333.40,650.27 L1334.55,648.00 L1335.70,645.65 L1336.85,643.21 L1338.00,640.70 L1339.15,638.11 L1340.30,635.44 L1340.71,634.45 L1341.13,633.44 L1341.55,632.43 L1341.97,631.40 L1342.39,630.35 L1342.81,629.30 L1343.23,628.23 L1343.65,627.16 L1344.06,626.06 L1344.48,624.96 L1344.90,623.84 L1345.32,622.71 L1345.74,621.57 L1346.16,620.42 L1346.58,619.25 L1347.00,618.07 L1347.41,616.87 L1347.83,615.66 L1348.25,614.44 L1348.67,613.20 L1349.09,611.95 L1349.51,610.69 L1349.93,609.41 L1350.35,608.11 L1350.76,606.81 L1351.18,605.48 L1351.60,604.15 L1352.02,602.79 L1352.44,601.43 L1352.86,600.04 L1353.28,598.65 L1353.70,597.23 L1354.12,595.81 L1354.53,594.36 L1354.95,592.90 L1355.37,591.43 L1355.79,589.93 L1356.21,588.43 L1356.63,586.90 L1357.05,585.36 L1357.47,583.80 L1357.88,582.23 L1358.30,580.64 L1358.72,579.03 L1359.14,577.40 L1359.56,575.76 L1359.98,574.10 L1360.40,572.42 L1360.82,570.73 L1361.23,569.01 L1361.65,567.28 L1362.07,565.53 L1362.49,563.77 L1362.91,561.98 L1363.33,560.17 L1363.75,558.35 L1364.17,556.51 L1364.59,554.65 L1365.00,552.76 L1365.42,550.86 L1365.84,548.95 L1366.26,547.01 L1366.68,545.05 L1367.10,543.07 L1367.52,541.07 L1367.94,539.05 L1368.35,537.01 L1368.77,534.95 L1369.19,532.87 L1369.61,530.77 L1370.03,528.65 L1370.45,526.51 L1370.87,524.34 L1371.29,522.16 L1371.70,519.95 L1372.12,517.72 L1372.54,515.47 L1372.96,513.20 L1373.38,510.91 L1373.80,508.59 L1374.22,506.26 L1374.64,503.90 L1375.06,501.51 L1375.47,499.11 L1375.89,496.68 L1376.31,494.23 L1376.73,491.76 L1377.15,489.26 L1377.57,486.74 L1377.99,484.20 L1378.41,481.64 L1378.82,479.05 L1379.24,476.43 L1379.66,473.80 L1380.08,471.14 L1380.50,468.45 L1380.92,465.74 L1381.34,463.01 L1381.76,460.26 L1382.17,457.47 L1382.59,454.67 L1383.01,451.84 L1383.43,448.99 L1383.85,446.11 L1384.27,443.20 L1384.69,440.27 L1385.11,437.32 L1385.53,434.34 L1385.94,431.34 L1386.36,428.31 L1386.78,425.26 L1387.20,422.18 L1387.62,419.07 L1388.04,415.94 L1388.46,412.79 L1388.88,409.61 L1389.29,406.40 L1389.71,403.17 L1390.13,399.91 L1390.55,396.63 L1390.97,393.32 L1391.39,389.99 L1391.81,386.63 L1392.23,383.25 L1392.64,379.83 L1393.06,376.40 L1393.48,372.94 L1393.90,369.45 L1394.32,365.93 L1394.74,362.40 L1395.16,358.83 L1395.58,355.24 L1396.00,351.62 L1396.41,347.98 L1396.83,344.31 L1397.25,340.62 L1397.67,336.90 L1398.09,333.16 L1398.51,329.39 L1398.93,325.60 L1399.35,321.78 L1399.76,317.93 L1400.18,314.06 L1400.60,310.17 L1401.02,306.25 L1401.44,302.31 L1401.86,298.34 L1402.28,294.35 L1402.70,290.33 L1403.11,286.29 L1403.53,282.22 L1403.95,278.13 L1404.37,274.02 L1404.79,269.89 L1405.21,265.73 L1405.63,261.54 L1406.05,257.34 L1406.46,253.11 L1406.88,248.85 L1407.30,244.58 L1407.72,240.28 L1408.14,235.97 L1408.56,231.63 L1408.98,227.26 L1409.40,222.88 L1409.82,218.48 L1410.23,214.05 L1410.65,209.61 L1411.07,205.14 L1411.49,200.66 L1411.91,196.15 L1412.33,191.63 L1412.75,187.08 L1413.17,182.52 L1413.58,177.94 L1414.00,173.34 L1414.42,168.73 L1414.84,164.09 L1415.26,159.44 L1415.68,154.78 L1416.10,150.09 L1416.52,145.40 L1416.93,140.68 L1417.35,135.95 L1417.77,131.21 L1418.19,126.45 L1418.61,121.68 L1419.03,116.90 L1419.45,112.10 L1419.87,107.30 L1420.29,102.48 L1420.70,97.65 L1421.12,92.80 L1421.54,87.95 L1421.96,83.09 L1422.38,78.22 L1422.80,73.34 L1423.22,68.46 L1423.64,63.56 L1424.59,75.88 L1425.54,87.95 L1426.49,99.77 L1427.44,111.35 L1428.39,122.70 L1429.34,133.82 L1430.29,144.71 L1431.24,155.38 L1432.19,165.83 L1433.14,176.08 L1434.09,186.12 L1435.04,195.96 L1435.99,205.60 L1436.94,215.05 L1437.89,224.31 L1438.84,233.39 L1439.79,242.29 L1440.74,251.01 L1441.69,259.56 L1442.64,267.94 L1443.59,276.16 L1444.54,284.22 L1445.49,292.12 L1446.44,299.86 L1447.40,307.45 L1448.35,314.90 L1449.30,322.20 L1450.25,329.36 L1451.20,336.38 L1452.15,343.27 L1453.10,350.03 L1454.05,356.65 L1455.00,363.15 L1455.95,369.52 L1456.90,375.78 L1457.85,381.91 L1458.80,387.93 L1459.75,393.83 L1460.70,399.62 L1461.65,405.30 L1462.60,410.88 L1463.55,416.35 L1464.50,421.72 L1465.45,426.99 L1466.40,432.16 L1467.35,437.23 L1468.30,442.21 L1469.25,447.10 L1470.20,451.90 L1471.15,456.60 L1472.11,461.23 L1473.06,465.76 L1474.01,470.22 L1474.96,474.59 L1475.91,478.88 L1476.86,483.10 L1477.81,487.24 L1478.76,491.30 L1479.71,495.29 L1480.66,499.21 L1481.61,503.05 L1482.56,506.83 L1483.51,510.54 L1484.46,514.19 L1485.41,517.77 L1486.36,521.28 L1487.31,524.74 L1488.26,528.13 L1489.21,531.46 L1490.16,534.73 L1491.11,537.95 L1492.06,541.11 L1493.01,544.21 L1493.96,547.26 L1494.91,550.26 L1495.86,553.20 L1496.82,556.10 L1497.77,558.94 L1498.72,561.73 L1499.67,564.48 L1500.62,567.18 L1501.57,569.83 L1502.52,572.44 L1503.47,575.00 L1504.42,577.52 L1505.37,579.99 L1506.32,582.43 L1507.27,584.82 L1508.22,587.17 L1509.17,589.48 L1510.12,591.76 L1511.07,593.99 L1512.02,596.19 L1512.97,598.35 L1513.92,600.48 L1514.87,602.57 L1515.82,604.62 L1516.77,606.64 L1517.72,608.63 L1518.67,610.59 L1519.62,612.51 L1520.57,614.40 L1521.53,616.26 L1522.48,618.09 L1523.43,619.89 L1524.38,621.66 L1525.33,623.41 L1526.28,625.12 L1527.23,626.81 L1528.18,628.47 L1529.13,630.10 L1530.08,631.71 L1531.03,633.29 L1531.98,634.84 L1532.93,636.38 L1533.88,637.88 L1534.83,639.37 L1535.78,640.83 L1536.73,642.26 L1537.68,643.68 L1538.63,645.07 L1539.58,646.44 L1540.53,647.79 L1541.48,649.11 L1542.43,650.42 L1543.38,651.71 L1544.33,652.98 L1545.28,654.22 L1546.23,655.45 L1547.19,656.66 L1548.14,657.85 L1549.09,659.02 L1550.04,660.18 L1550.99,661.32 L1551.94,662.44 L1552.89,663.54 L1553.84,664.63 L1554.79,665.70 L1555.74,666.75 L1556.69,667.79 L1557.64,668.81 L1558.59,669.82 L1559.54,670.81 L1560.49,671.79 L1561.44,672.75 L1562.39,673.70 L1563.34,674.63 L1564.29,675.56 L1565.24,676.46 L1566.19,677.36 L1567.14,678.24 L1568.09,679.11 L1569.04,679.96 L1569.99,680.81 L1570.94,681.64 L1571.90,682.46 L1572.85,683.27 L1573.80,684.06 L1574.75,684.85 L1575.70,685.62 L1576.65,686.38 L1577.60,687.13 L1578.55,687.88 L1579.50,688.61 L1580.45,689.33 L1581.40,690.04 L1582.35,690.74 L1583.30,691.43 L1584.25,692.11 L1585.20,692.78 L1586.15,693.44 L1587.10,694.09 L1588.05,694.74 L1589.00,695.37 L1589.95,696.00 L1590.90,696.61 L1591.85,697.22 L1592.80,697.82 L1593.75,698.42 L1594.70,699.00 L1595.65,699.58 L1596.61,700.15 L1597.56,700.71 L1598.51,701.26 L1599.46,701.81 L1600.41,702.35 L1601.36,702.88 L1602.31,703.40 L1603.26,703.92 L1604.21,704.43 L1605.16,704.93 L1606.11,705.43 L1607.06,705.92 L1608.01,706.41 L1608.96,706.89 L1609.91,707.36 L1610.86,707.82 L1611.81,708.28 L1612.76,708.74 L1613.71,709.18 L1614.66,709.63 L1615.61,710.06 L1616.56,710.49 L1617.51,710.92 L1618.46,711.34 L1619.41,711.75 L1620.36,712.16 L1621.32,712.57 L1622.27,712.97 L1623.22,713.36 L1624.17,713.75 L1625.12,714.13 L1626.07,714.51 L1627.02,714.89 L1627.97,715.26 L1628.92,715.62 L1629.87,715.98 L1630.82,716.34 L1631.77,716.69 L1632.72,717.04 L1633.67,717.38 L1634.62,717.72 L1635.57,718.06 L1636.52,718.39 L1637.47,718.72 L1638.42,719.04 L1639.37,719.36 L1640.32,719.68 L1641.27,719.99 L1642.22,720.30 L1643.17,720.60 L1644.12,720.90 L1645.07,721.20 L1646.03,721.49 L1646.98,721.78 L1647.93,722.07 L1648.88,722.35 L1649.83,722.63 L1650.78,722.91 L1651.73,723.19 L1652.68,723.46 L1653.63,723.72 L1654.58,723.99 L1655.53,724.25 L1656.48,724.51 L1657.43,724.76 L1658.38,725.02 L1659.33,725.27 L1660.28,725.51 L1661.23,725.76 L1662.18,726.00 L1663.13,726.24 L1664.08,726.47 L1665.03,726.71 L1665.98,726.94 L1666.93,727.17 L1667.88,727.39 L1668.83,727.62 L1669.78,727.84 L1670.74,728.06 L1671.69,728.27 L1672.64,728.49 L1673.59,728.70 L1674.54,728.91 L1675.49,729.11 L1676.44,729.32 L1677.39,729.52 L1678.34,729.72 L1679.29,729.92 L1680.24,730.12 L1681.19,730.31 L1682.14,730.50 L1683.09,730.69 L1684.04,730.88 L1684.99,731.07 L1685.94,731.25 L1686.89,731.44 L1687.84,731.62 L1688.79,731.79 L1689.74,731.97 L1690.69,732.15 L1691.64,732.32 L1692.59,732.49 L1693.54,732.66 L1694.49,732.83 L1695.45,733.00 L1696.40,733.16 L1697.35,733.32 L1698.30,733.48 L1699.25,733.64 L1700.20,733.80 L1701.15,733.96 L1702.10,734.11 L1703.05,734.27 L1704.00,734.42 L1704.95,734.57 L1705.90,734.72 L1706.85,734.87 L1707.80,735.01" fill="none" stroke="#000" stroke-width="5" stroke-linejoin="round" stroke-linecap="butt"/>
<path d="M1423.2,39.05 V790" fill="none" stroke="#2f62cc" stroke-width="4.5" stroke-dasharray="4.4 5.678"/>
<text class="ann"><tspan font-style="italic" font-size="28.5" x="1446.2" y="724">f</tspan><tspan font-size="18.5" x="1452.9" y="730.5">4 </tspan><tspan font-size="29" x="1475.1" y="724.5">= </tspan><tspan class="annd" x="1507.6" y="723.8">3.599</tspan></text>
<text x="987.2" y="764.80" text-anchor="end" class="btk">0</text>
<text x="987.2" y="659.43" text-anchor="end" class="btk">100</text>
<text x="987.2" y="554.06" text-anchor="end" class="btk">200</text>
<text x="987.2" y="448.69" text-anchor="end" class="btk">300</text>
<text x="987.2" y="343.31" text-anchor="end" class="btk">400</text>
<text x="987.2" y="237.94" text-anchor="end" class="btk">500</text>
<text x="987.2" y="132.57" text-anchor="end" class="btk">600</text>
<text x="987.2" y="27.20" text-anchor="end" class="btk">700</text>
<text x="996.50" y="791.6" text-anchor="middle" class="btk">0</text>
<text x="1115.05" y="791.6" text-anchor="middle" class="btk">1</text>
<text x="1233.60" y="791.6" text-anchor="middle" class="btk">2</text>
<text x="1352.15" y="791.6" text-anchor="middle" class="btk">3</text>
<text x="1470.70" y="791.6" text-anchor="middle" class="btk">4</text>
<text x="1589.25" y="791.6" text-anchor="middle" class="btk">5</text>
<text x="1707.80" y="791.6" text-anchor="middle" class="btk">6</text>
<text x="1252.7" y="845.3" class="lab">Normalized <tspan class="fi" font-size="41.5" x="1476.0" y="847.4">f</tspan><tspan class="bi" font-size="33.5" x="1495.2" y="867">4</tspan></text>
<text transform="translate(925.8,469) rotate(-90)" class="lab"><tspan class="bi" x="0" y="0">g</tspan><tspan class="bi" font-size="37" x="24.3" y="-20.8">N </tspan><tspan x="59.6" y="0">(meV)</tspan></text>
<text y="81.2" class="pl"><tspan x="1014.5">(</tspan><tspan x="1034.2" font-size="50.5">b</tspan><tspan x="1065">)</tspan></text>
</g>
</g>
</svg>
</body>
</html>
